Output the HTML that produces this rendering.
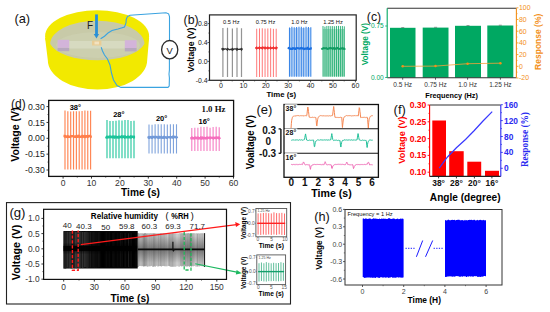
<!DOCTYPE html>
<html><head><meta charset="utf-8"><style>
html,body{margin:0;padding:0;background:#fff;}
body{width:550px;height:312px;overflow:hidden;font-family:"Liberation Sans",sans-serif;}
svg{display:block;}
</style></head><body>
<svg width="550" height="312" viewBox="0 0 550 312">
<rect width="550" height="312" fill="#fff"/>
<text x="14.4" y="23.2" font-size="12.8" fill="#111" text-anchor="start" font-weight="normal" font-family="'Liberation Sans', sans-serif">(a)</text>
<path d="M45.1 38 L47.8 60 A49.7 29.6 0 0 0 147.2 60 L149.1 38 Z" stroke="none" stroke-width="1" fill="#f2e900"/>
<ellipse cx="97.1" cy="36.2" rx="52" ry="26" fill="#f2e900"/>
<path d="M50.2 44 A47.1 23.2 0 0 1 144.4 44 A48.3 20.8 0 0 1 50.2 44 Z" stroke="none" stroke-width="1" fill="#c8caa8"/>
<ellipse cx="98" cy="45" rx="42" ry="13" fill="#d0d3b6" opacity="0.5"/>
<rect x="68" y="41" width="57" height="7.5" fill="#d9dcc4" opacity="0.8"/>
<rect x="57.6" y="47.8" width="11.6" height="3.4" fill="#b7a8be"/>
<rect x="124.8" y="47.8" width="11.8" height="3.6" fill="#b7a8be"/>
<rect x="57.6" y="39.8" width="11.6" height="8" fill="#d3b4da"/>
<rect x="124.8" y="40.2" width="11.8" height="7.8" fill="#d3b4da"/>
<rect x="92" y="40.6" width="9.4" height="4.9" fill="#e9cc94"/>
<rect x="94.5" y="41.6" width="4.5" height="2.8" fill="#f2e2c0"/>
<rect x="95.1" y="14.4" width="2.8" height="20.2" fill="#2a90d6"/>
<path d="M93.7 34.0 L99.1 34.0 L96.5 38.4 Z" stroke="none" stroke-width="1" fill="#2a90d6"/>
<text x="87" y="29" font-size="10" fill="#1a1a1a" text-anchor="start" font-weight="normal" font-family="'Liberation Sans', sans-serif">F</text>
<path d="M100.6 38.8 L104.5 36.2 L108 33 L112 30.5 L118 29 L124.5 27 L126 23 L126.2 19.5 L127.4 16.6 L130 15.2 L166 12.7 L168.6 13.8 L169.5 16.5 L169.5 41.7" stroke="#3aa3e0" stroke-width="1.1" fill="none"/>
<path d="M169.4 56.4 L169.4 70 L169 74 L169.4 78 L169.2 86 L168 87.4 L121 87.4 L117 85.5 L113.5 80 L111.5 73 L110 65 L107.5 59 L104.5 55 L102.5 51 L101.2 47.2" stroke="#3aa3e0" stroke-width="1.1" fill="none"/>
<ellipse cx="169.7" cy="49.7" rx="8.1" ry="9.2" fill="#fff" stroke="#2a2a2a" stroke-width="1.3"/>
<text x="169.7" y="53.6" font-size="9.4" fill="#222" text-anchor="middle" font-weight="normal" font-family="'Liberation Sans', sans-serif">V</text>
<text x="183.6" y="24.4" font-size="12.3" fill="#111" text-anchor="start" font-weight="normal" font-family="'Liberation Sans', sans-serif">(b)</text>
<line x1="207.5" y1="23.6" x2="209.5" y2="23.6" stroke="#333" stroke-width="0.8"/>
<text x="207.5" y="26.07" font-size="6.9" fill="#222" text-anchor="end" font-weight="normal" font-family="'Liberation Sans', sans-serif">0.8</text>
<line x1="207.5" y1="42.5" x2="209.5" y2="42.5" stroke="#333" stroke-width="0.8"/>
<text x="207.5" y="44.97" font-size="6.9" fill="#222" text-anchor="end" font-weight="normal" font-family="'Liberation Sans', sans-serif">0.4</text>
<line x1="207.5" y1="61.4" x2="209.5" y2="61.4" stroke="#333" stroke-width="0.8"/>
<text x="207.5" y="63.87" font-size="6.9" fill="#222" text-anchor="end" font-weight="normal" font-family="'Liberation Sans', sans-serif">0.0</text>
<line x1="207.5" y1="80.3" x2="209.5" y2="80.3" stroke="#333" stroke-width="0.8"/>
<text x="207.5" y="82.77" font-size="6.9" fill="#222" text-anchor="end" font-weight="normal" font-family="'Liberation Sans', sans-serif">-0.4</text>
<line x1="208.3" y1="33.05" x2="209.5" y2="33.05" stroke="#333" stroke-width="0.6"/>
<line x1="208.3" y1="51.95" x2="209.5" y2="51.95" stroke="#333" stroke-width="0.6"/>
<line x1="208.3" y1="70.85" x2="209.5" y2="70.85" stroke="#333" stroke-width="0.6"/>
<line x1="221" y1="80.3" x2="221" y2="82.3" stroke="#333" stroke-width="0.8"/>
<text x="221" y="88.11" font-size="7" fill="#222" text-anchor="middle" font-weight="normal" font-family="'Liberation Sans', sans-serif">0</text>
<line x1="243.4" y1="80.3" x2="243.4" y2="82.3" stroke="#333" stroke-width="0.8"/>
<text x="243.4" y="88.11" font-size="7" fill="#222" text-anchor="middle" font-weight="normal" font-family="'Liberation Sans', sans-serif">10</text>
<line x1="265.8" y1="80.3" x2="265.8" y2="82.3" stroke="#333" stroke-width="0.8"/>
<text x="265.8" y="88.11" font-size="7" fill="#222" text-anchor="middle" font-weight="normal" font-family="'Liberation Sans', sans-serif">20</text>
<line x1="288.2" y1="80.3" x2="288.2" y2="82.3" stroke="#333" stroke-width="0.8"/>
<text x="288.2" y="88.11" font-size="7" fill="#222" text-anchor="middle" font-weight="normal" font-family="'Liberation Sans', sans-serif">30</text>
<line x1="310.6" y1="80.3" x2="310.6" y2="82.3" stroke="#333" stroke-width="0.8"/>
<text x="310.6" y="88.11" font-size="7" fill="#222" text-anchor="middle" font-weight="normal" font-family="'Liberation Sans', sans-serif">40</text>
<line x1="333" y1="80.3" x2="333" y2="82.3" stroke="#333" stroke-width="0.8"/>
<text x="333" y="88.11" font-size="7" fill="#222" text-anchor="middle" font-weight="normal" font-family="'Liberation Sans', sans-serif">50</text>
<line x1="355.4" y1="80.3" x2="355.4" y2="82.3" stroke="#333" stroke-width="0.8"/>
<text x="355.4" y="88.11" font-size="7" fill="#222" text-anchor="middle" font-weight="normal" font-family="'Liberation Sans', sans-serif">60</text>
<line x1="232.2" y1="80.3" x2="232.2" y2="81.5" stroke="#333" stroke-width="0.6"/>
<line x1="254.6" y1="80.3" x2="254.6" y2="81.5" stroke="#333" stroke-width="0.6"/>
<line x1="277" y1="80.3" x2="277" y2="81.5" stroke="#333" stroke-width="0.6"/>
<line x1="299.4" y1="80.3" x2="299.4" y2="81.5" stroke="#333" stroke-width="0.6"/>
<line x1="321.8" y1="80.3" x2="321.8" y2="81.5" stroke="#333" stroke-width="0.6"/>
<line x1="344.2" y1="80.3" x2="344.2" y2="81.5" stroke="#333" stroke-width="0.6"/>
<text transform="translate(194.31 49.9) rotate(-90)" font-size="8.7" fill="#000" text-anchor="middle" font-weight="bold" font-family="'Liberation Sans', sans-serif">Voltage (V)</text>
<text x="281.3" y="97.2" font-size="7.8" fill="#000" text-anchor="middle" font-weight="bold" font-family="'Liberation Sans', sans-serif">Time (s)</text>
<path d="M222.9 27.99 L222.9 77M227.5 27.78 L227.5 77M232.4 28.38 L232.4 77M237 27.69 L237 77M241.5 28.24 L241.5 77" stroke="#888" stroke-width="1.2" fill="none" opacity="0.9"/>
<path d="M221.6 49.3 L222.9 47.5 L224.2 49.3 L222.9 51.3 ZM226.2 49.3 L227.5 47.5 L228.8 49.3 L227.5 51.3 ZM231.1 49.3 L232.4 47.5 L233.7 49.3 L232.4 51.3 ZM235.7 49.3 L237 47.5 L238.3 49.3 L237 51.3 ZM240.2 49.3 L241.5 47.5 L242.8 49.3 L241.5 51.3 Z" stroke="none" stroke-width="1" fill="#333"/>
<path d="M221.4 49.17 L222.1 48.86 L222.8 49.31 L223.5 48.84 L224.2 49.23 L224.9 48.87 L225.6 48.89 L226.3 49.22 L227 49.63 L227.7 48.92 L228.4 49.02 L229.1 49.43 L229.8 49.75 L230.5 49.38 L231.2 49.2 L231.9 49.78 L232.6 48.85 L233.3 49.66 L234 49.09 L234.7 48.94 L235.4 48.92 L236.1 49.11 L236.8 49.62 L237.5 48.98 L238.2 49.38 L238.9 49.44 L239.6 49.17 L240.3 49.35 L241 48.86 L241.7 48.86 L242.4 49.01" stroke="#333" stroke-width="1.3" fill="none"/>
<path d="M256.7 28.72 L256.7 77M259.49 28.41 L259.49 77M262.27 28.28 L262.27 77M265.06 28.6 L265.06 77M267.84 28.44 L267.84 77M270.63 28.26 L270.63 77M273.41 28.85 L273.41 77M276.2 28.74 L276.2 77" stroke="#ff5050" stroke-width="0.9" fill="none" opacity="0.85"/>
<path d="M255.4 47.9 L256.7 46.1 L258 47.9 L256.7 49.9 ZM258.19 47.9 L259.49 46.1 L260.79 47.9 L259.49 49.9 ZM260.97 47.9 L262.27 46.1 L263.57 47.9 L262.27 49.9 ZM263.76 47.9 L265.06 46.1 L266.36 47.9 L265.06 49.9 ZM266.54 47.9 L267.84 46.1 L269.14 47.9 L267.84 49.9 ZM269.33 47.9 L270.63 46.1 L271.93 47.9 L270.63 49.9 ZM272.11 47.9 L273.41 46.1 L274.71 47.9 L273.41 49.9 ZM274.9 47.9 L276.2 46.1 L277.5 47.9 L276.2 49.9 Z" stroke="none" stroke-width="1" fill="#f03030"/>
<path d="M255.2 47.64 L255.9 47.97 L256.6 47.93 L257.3 48.28 L258 48.13 L258.7 47.69 L259.4 48.38 L260.1 47.52 L260.8 47.82 L261.5 48.16 L262.2 47.55 L262.9 47.89 L263.6 47.44 L264.3 48.07 L265 48.16 L265.7 47.97 L266.4 48.28 L267.1 47.71 L267.8 48.1 L268.5 47.99 L269.2 47.98 L269.9 47.86 L270.6 48.24 L271.3 48.34 L272 47.87 L272.7 48.06 L273.4 47.46 L274.1 48.1 L274.8 48.05 L275.5 48.39 L276.2 48.22 L276.9 47.68 L277.6 47.79" stroke="#f03030" stroke-width="1.4" fill="none"/>
<path d="M290.6 28 L290.6 76.5M292.99 28 L292.99 76.5M295.38 28 L295.38 76.5M297.76 28 L297.76 76.5M300.15 28 L300.15 76.5M302.54 28 L302.54 76.5M304.93 28 L304.93 76.5M307.31 28 L307.31 76.5M309.7 28 L309.7 76.5" stroke="#a8c8f2" stroke-width="0.9" fill="none"/>
<path d="M289.5 27.5 L289.5 76.7M291.87 26.73 L291.87 76.7M294.23 27.25 L294.23 76.7M296.6 26.9 L296.6 76.7M298.97 26.84 L298.97 76.7M301.33 26.77 L301.33 76.7M303.7 27.62 L303.7 76.7M306.07 26.86 L306.07 76.7M308.43 27 L308.43 76.7M310.8 27.17 L310.8 76.7" stroke="#2f7fe6" stroke-width="1.1" fill="none" opacity="0.95"/>
<path d="M288 48.87 L288.7 48.08 L289.4 48.45 L290.1 48.55 L290.8 48.88 L291.5 48.82 L292.2 48.86 L292.9 48.28 L293.6 48.42 L294.3 48.36 L295 48.88 L295.7 48.96 L296.4 48.15 L297.1 48.18 L297.8 48.23 L298.5 48.23 L299.2 48.48 L299.9 48.59 L300.6 48.26 L301.3 48 L302 48.42 L302.7 48.37 L303.4 48.57 L304.1 48.95 L304.8 48.69 L305.5 48.52 L306.2 48.62 L306.9 48.68 L307.6 48.05 L308.3 48.9 L309 48.78 L309.7 48.87 L310.4 48.8 L311.1 48.39 L311.8 48.4" stroke="#1a6ee0" stroke-width="2.2" fill="none"/>
<rect x="323" y="29" width="21.5" height="47.5" fill="#cdeedd"/>
<path d="M323.8 29 L323.8 76.5M325.59 29 L325.59 76.5M327.38 29 L327.38 76.5M329.17 29 L329.17 76.5M330.96 29 L330.96 76.5M332.75 29 L332.75 76.5M334.55 29 L334.55 76.5M336.34 29 L336.34 76.5M338.13 29 L338.13 76.5M339.92 29 L339.92 76.5M341.71 29 L341.71 76.5M343.5 29 L343.5 76.5" stroke="#9bd8bb" stroke-width="0.9" fill="none"/>
<path d="M323 26.02 L323 76.7M324.94 26.66 L324.94 76.7M326.87 25.97 L326.87 76.7M328.81 25.98 L328.81 76.7M330.75 26.15 L330.75 76.7M332.68 26.09 L332.68 76.7M334.62 26.31 L334.62 76.7M336.55 25.96 L336.55 76.7M338.49 25.9 L338.49 76.7M340.43 26.08 L340.43 76.7M342.36 26.02 L342.36 76.7M344.3 26.34 L344.3 76.7" stroke="#1fad72" stroke-width="1" fill="none" opacity="0.9"/>
<path d="M321.5 48.03 L322.2 48.87 L322.9 48.61 L323.6 48.15 L324.3 48.25 L325 48.35 L325.7 48.36 L326.4 48.12 L327.1 48.85 L327.8 48.99 L328.5 48.47 L329.2 48.48 L329.9 48.09 L330.6 48.1 L331.3 48.34 L332 48.26 L332.7 48.83 L333.4 48.16 L334.1 48.02 L334.8 48.95 L335.5 48.53 L336.2 48.15 L336.9 48.54 L337.6 48.03 L338.3 48.53 L339 48.98 L339.7 48.86 L340.4 48.7 L341.1 48.26 L341.8 48.37 L342.5 48.17 L343.2 48.77 L343.9 48.53 L344.6 48.78 L345.3 48.33" stroke="#129c62" stroke-width="2" fill="none"/>
<text x="231.3" y="23.64" font-size="5.7" fill="#111" text-anchor="middle" font-weight="normal" font-family="'Liberation Sans', sans-serif">0.5 Hz</text>
<text x="265.5" y="23.64" font-size="5.7" fill="#111" text-anchor="middle" font-weight="normal" font-family="'Liberation Sans', sans-serif">0.75 Hz</text>
<text x="299.5" y="23.64" font-size="5.7" fill="#111" text-anchor="middle" font-weight="normal" font-family="'Liberation Sans', sans-serif">1.0 Hz</text>
<text x="333" y="23.64" font-size="5.7" fill="#111" text-anchor="middle" font-weight="normal" font-family="'Liberation Sans', sans-serif">1.25 Hz</text>
<rect x="209.5" y="14.9" width="146.7" height="65.4" fill="none" stroke="#222" stroke-width="1.2"/>
<text x="366.8" y="21.4" font-size="12.3" fill="#111" text-anchor="start" font-weight="normal" font-family="'Liberation Sans', sans-serif">(c)</text>
<rect x="390" y="27.8" width="25.5" height="49.9" fill="#00a862"/>
<line x1="401.25" y1="27.5" x2="404.25" y2="27.5" stroke="#444" stroke-width="0.5"/>
<rect x="422.7" y="27.6" width="25.8" height="50.1" fill="#00a862"/>
<line x1="434.1" y1="27.3" x2="437.1" y2="27.3" stroke="#444" stroke-width="0.5"/>
<rect x="455" y="25.8" width="26" height="51.9" fill="#00a862"/>
<line x1="466.5" y1="25.5" x2="469.5" y2="25.5" stroke="#444" stroke-width="0.5"/>
<rect x="487.3" y="25.5" width="26" height="52.2" fill="#00a862"/>
<line x1="498.8" y1="25.2" x2="501.8" y2="25.2" stroke="#444" stroke-width="0.5"/>
<line x1="387.2" y1="8.2" x2="516.4" y2="8.2" stroke="#333" stroke-width="1.1"/>
<line x1="387.2" y1="77.7" x2="516.4" y2="77.7" stroke="#333" stroke-width="1.1"/>
<line x1="387.2" y1="8.2" x2="387.2" y2="77.7" stroke="#00a862" stroke-width="1.1"/>
<line x1="516.4" y1="8.2" x2="516.4" y2="77.7" stroke="#f39019" stroke-width="1.1"/>
<line x1="385.2" y1="26" x2="387.2" y2="26" stroke="#00a862" stroke-width="0.8"/>
<line x1="385.2" y1="77.5" x2="387.2" y2="77.5" stroke="#00a862" stroke-width="0.8"/>
<text x="383.8" y="28.36" font-size="6.6" fill="#00a862" text-anchor="end" font-weight="normal" font-family="'Liberation Sans', sans-serif">0.75</text>
<text x="383.8" y="79.76" font-size="6.6" fill="#00a862" text-anchor="end" font-weight="normal" font-family="'Liberation Sans', sans-serif">0.00</text>
<line x1="516.4" y1="78" x2="518.4" y2="78" stroke="#f39019" stroke-width="0.8"/>
<text x="519" y="80.47" font-size="6.9" fill="#f39019" text-anchor="start" font-weight="normal" font-family="'Liberation Sans', sans-serif">-20</text>
<line x1="516.4" y1="66.3" x2="518.4" y2="66.3" stroke="#f39019" stroke-width="0.8"/>
<text x="519" y="68.77" font-size="6.9" fill="#f39019" text-anchor="start" font-weight="normal" font-family="'Liberation Sans', sans-serif">0</text>
<line x1="516.4" y1="54.6" x2="518.4" y2="54.6" stroke="#f39019" stroke-width="0.8"/>
<text x="519" y="57.07" font-size="6.9" fill="#f39019" text-anchor="start" font-weight="normal" font-family="'Liberation Sans', sans-serif">20</text>
<line x1="516.4" y1="42.9" x2="518.4" y2="42.9" stroke="#f39019" stroke-width="0.8"/>
<text x="519" y="45.37" font-size="6.9" fill="#f39019" text-anchor="start" font-weight="normal" font-family="'Liberation Sans', sans-serif">40</text>
<line x1="516.4" y1="31.2" x2="518.4" y2="31.2" stroke="#f39019" stroke-width="0.8"/>
<text x="519" y="33.67" font-size="6.9" fill="#f39019" text-anchor="start" font-weight="normal" font-family="'Liberation Sans', sans-serif">60</text>
<line x1="516.4" y1="19.5" x2="518.4" y2="19.5" stroke="#f39019" stroke-width="0.8"/>
<text x="519" y="21.97" font-size="6.9" fill="#f39019" text-anchor="start" font-weight="normal" font-family="'Liberation Sans', sans-serif">80</text>
<line x1="516.4" y1="7.8" x2="518.4" y2="7.8" stroke="#f39019" stroke-width="0.8"/>
<text x="519" y="10.27" font-size="6.9" fill="#f39019" text-anchor="start" font-weight="normal" font-family="'Liberation Sans', sans-serif">100</text>
<line x1="516.4" y1="72.15" x2="517.6" y2="72.15" stroke="#f39019" stroke-width="0.6"/>
<line x1="516.4" y1="60.45" x2="517.6" y2="60.45" stroke="#f39019" stroke-width="0.6"/>
<line x1="516.4" y1="48.75" x2="517.6" y2="48.75" stroke="#f39019" stroke-width="0.6"/>
<line x1="516.4" y1="37.05" x2="517.6" y2="37.05" stroke="#f39019" stroke-width="0.6"/>
<line x1="516.4" y1="25.35" x2="517.6" y2="25.35" stroke="#f39019" stroke-width="0.6"/>
<line x1="516.4" y1="13.65" x2="517.6" y2="13.65" stroke="#f39019" stroke-width="0.6"/>
<path d="M402.7 66.3 L435.5 66.1 L467.6 63.7 L500.4 63.2" stroke="#f5a23a" stroke-width="0.8" fill="none"/>
<circle cx="402.7" cy="66.3" r="1.25" fill="#f39019"/>
<circle cx="435.5" cy="66.1" r="1.25" fill="#f39019"/>
<circle cx="467.6" cy="63.7" r="1.25" fill="#f39019"/>
<circle cx="500.4" cy="63.2" r="1.25" fill="#f39019"/>
<line x1="402.7" y1="77.7" x2="402.7" y2="79.7" stroke="#333" stroke-width="0.8"/>
<text x="402.7" y="86.93" font-size="6.5" fill="#333" text-anchor="middle" font-weight="normal" font-family="'Liberation Sans', sans-serif">0.5 Hz</text>
<line x1="435.5" y1="77.7" x2="435.5" y2="79.7" stroke="#333" stroke-width="0.8"/>
<text x="435.5" y="86.93" font-size="6.5" fill="#333" text-anchor="middle" font-weight="normal" font-family="'Liberation Sans', sans-serif">0.75 Hz</text>
<line x1="467.6" y1="77.7" x2="467.6" y2="79.7" stroke="#333" stroke-width="0.8"/>
<text x="467.6" y="86.93" font-size="6.5" fill="#333" text-anchor="middle" font-weight="normal" font-family="'Liberation Sans', sans-serif">1.0 Hz</text>
<line x1="500.4" y1="77.7" x2="500.4" y2="79.7" stroke="#333" stroke-width="0.8"/>
<text x="500.4" y="86.93" font-size="6.5" fill="#333" text-anchor="middle" font-weight="normal" font-family="'Liberation Sans', sans-serif">1.25 Hz</text>
<text x="451.6" y="98" font-size="7.3" fill="#000" text-anchor="middle" font-weight="bold" font-family="'Liberation Sans', sans-serif">Frequency (Hz)</text>
<text transform="translate(367.94 44.2) rotate(-90)" font-size="8.2" fill="#00a862" text-anchor="middle" font-weight="bold" font-family="'Liberation Sans', sans-serif">Voltage (V)</text>
<text transform="translate(541.44 41.8) rotate(-90)" font-size="8.5" fill="#f39019" text-anchor="middle" font-weight="bold" font-family="'Liberation Sans', sans-serif">Response (%)</text>
<line x1="46.5" y1="106.6" x2="48.7" y2="106.6" stroke="#222" stroke-width="0.9"/>
<text x="44.8" y="109.71" font-size="8.7" fill="#222" text-anchor="end" font-weight="normal" font-family="'Liberation Sans', sans-serif">0.30</text>
<line x1="46.5" y1="122.45" x2="48.7" y2="122.45" stroke="#222" stroke-width="0.9"/>
<text x="44.8" y="125.56" font-size="8.7" fill="#222" text-anchor="end" font-weight="normal" font-family="'Liberation Sans', sans-serif">0.15</text>
<line x1="46.5" y1="138.3" x2="48.7" y2="138.3" stroke="#222" stroke-width="0.9"/>
<text x="44.8" y="141.41" font-size="8.7" fill="#222" text-anchor="end" font-weight="normal" font-family="'Liberation Sans', sans-serif">0.00</text>
<line x1="46.5" y1="154.15" x2="48.7" y2="154.15" stroke="#222" stroke-width="0.9"/>
<text x="44.8" y="157.26" font-size="8.7" fill="#222" text-anchor="end" font-weight="normal" font-family="'Liberation Sans', sans-serif">-0.15</text>
<line x1="46.5" y1="170" x2="48.7" y2="170" stroke="#222" stroke-width="0.9"/>
<text x="44.8" y="173.11" font-size="8.7" fill="#222" text-anchor="end" font-weight="normal" font-family="'Liberation Sans', sans-serif">-0.30</text>
<line x1="47.5" y1="114.53" x2="48.7" y2="114.53" stroke="#222" stroke-width="0.7"/>
<line x1="47.5" y1="130.38" x2="48.7" y2="130.38" stroke="#222" stroke-width="0.7"/>
<line x1="47.5" y1="146.23" x2="48.7" y2="146.23" stroke="#222" stroke-width="0.7"/>
<line x1="47.5" y1="162.08" x2="48.7" y2="162.08" stroke="#222" stroke-width="0.7"/>
<line x1="63.1" y1="176.4" x2="63.1" y2="178.6" stroke="#222" stroke-width="0.9"/>
<text x="63.1" y="186.28" font-size="8.6" fill="#333" text-anchor="middle" font-weight="normal" font-family="'Liberation Sans', sans-serif">0</text>
<line x1="91.5" y1="176.4" x2="91.5" y2="178.6" stroke="#222" stroke-width="0.9"/>
<text x="91.5" y="186.28" font-size="8.6" fill="#333" text-anchor="middle" font-weight="normal" font-family="'Liberation Sans', sans-serif">10</text>
<line x1="119.9" y1="176.4" x2="119.9" y2="178.6" stroke="#222" stroke-width="0.9"/>
<text x="119.9" y="186.28" font-size="8.6" fill="#333" text-anchor="middle" font-weight="normal" font-family="'Liberation Sans', sans-serif">20</text>
<line x1="148.3" y1="176.4" x2="148.3" y2="178.6" stroke="#222" stroke-width="0.9"/>
<text x="148.3" y="186.28" font-size="8.6" fill="#333" text-anchor="middle" font-weight="normal" font-family="'Liberation Sans', sans-serif">30</text>
<line x1="176.7" y1="176.4" x2="176.7" y2="178.6" stroke="#222" stroke-width="0.9"/>
<text x="176.7" y="186.28" font-size="8.6" fill="#333" text-anchor="middle" font-weight="normal" font-family="'Liberation Sans', sans-serif">40</text>
<line x1="205.1" y1="176.4" x2="205.1" y2="178.6" stroke="#222" stroke-width="0.9"/>
<text x="205.1" y="186.28" font-size="8.6" fill="#333" text-anchor="middle" font-weight="normal" font-family="'Liberation Sans', sans-serif">50</text>
<line x1="233.5" y1="176.4" x2="233.5" y2="178.6" stroke="#222" stroke-width="0.9"/>
<text x="233.5" y="186.28" font-size="8.6" fill="#333" text-anchor="middle" font-weight="normal" font-family="'Liberation Sans', sans-serif">60</text>
<line x1="77.3" y1="176.4" x2="77.3" y2="177.6" stroke="#222" stroke-width="0.7"/>
<line x1="105.7" y1="176.4" x2="105.7" y2="177.6" stroke="#222" stroke-width="0.7"/>
<line x1="134.1" y1="176.4" x2="134.1" y2="177.6" stroke="#222" stroke-width="0.7"/>
<line x1="162.5" y1="176.4" x2="162.5" y2="177.6" stroke="#222" stroke-width="0.7"/>
<line x1="190.9" y1="176.4" x2="190.9" y2="177.6" stroke="#222" stroke-width="0.7"/>
<line x1="219.3" y1="176.4" x2="219.3" y2="177.6" stroke="#222" stroke-width="0.7"/>
<path d="M65 110.47 L65 169.6M67.84 111.17 L67.84 169.6M70.69 111.38 L70.69 169.6M73.53 111.22 L73.53 169.6M76.38 111.17 L76.38 169.6M79.22 111.18 L79.22 169.6M82.07 111.09 L82.07 169.6M84.91 110.47 L84.91 169.6M87.76 110.82 L87.76 169.6M90.6 110.63 L90.6 169.6" stroke="#ff7e4a" stroke-width="1.15" fill="none" opacity="0.95"/>
<path d="M63.7 136.4 L65 134.6 L66.3 136.4 L65 138.4 ZM66.54 136.4 L67.84 134.6 L69.14 136.4 L67.84 138.4 ZM69.39 136.4 L70.69 134.6 L71.99 136.4 L70.69 138.4 ZM72.23 136.4 L73.53 134.6 L74.83 136.4 L73.53 138.4 ZM75.08 136.4 L76.38 134.6 L77.68 136.4 L76.38 138.4 ZM77.92 136.4 L79.22 134.6 L80.52 136.4 L79.22 138.4 ZM80.77 136.4 L82.07 134.6 L83.37 136.4 L82.07 138.4 ZM83.61 136.4 L84.91 134.6 L86.21 136.4 L84.91 138.4 ZM86.46 136.4 L87.76 134.6 L89.06 136.4 L87.76 138.4 ZM89.3 136.4 L90.6 134.6 L91.9 136.4 L90.6 138.4 Z" stroke="none" stroke-width="1" fill="#ff7e4a"/>
<path d="M63.5 135.93 L64.2 135.93 L64.9 136.18 L65.6 136.16 L66.3 136.59 L67 136.86 L67.7 136.35 L68.4 136.84 L69.1 136.89 L69.8 136.86 L70.5 136.26 L71.2 136.12 L71.9 136.13 L72.6 136.1 L73.3 136.1 L74 136.52 L74.7 136.8 L75.4 136.74 L76.1 136.38 L76.8 136.55 L77.5 136.7 L78.2 135.98 L78.9 136.56 L79.6 136.81 L80.3 136.68 L81 136.65 L81.7 136.38 L82.4 136.08 L83.1 136.69 L83.8 136.23 L84.5 136.7 L85.2 136.87 L85.9 136.3 L86.6 136.3 L87.3 136.85 L88 136.62 L88.7 136.07 L89.4 136.03 L90.1 136.05 L90.8 136.8 L91.5 136.71" stroke="#ff7e4a" stroke-width="2.4" fill="none"/>
<path d="M107 120.08 L107 158.2M110 120.89 L110 158.2M113 121.08 L113 158.2M116 120.69 L116 158.2M119 120.32 L119 158.2M122 120.56 L122 158.2M125 120.06 L125 158.2M128 119.92 L128 158.2M131 121.07 L131 158.2M134 120.68 L134 158.2" stroke="#1cc49a" stroke-width="1.15" fill="none" opacity="0.95"/>
<path d="M105.7 137 L107 135.2 L108.3 137 L107 139 ZM108.7 137 L110 135.2 L111.3 137 L110 139 ZM111.7 137 L113 135.2 L114.3 137 L113 139 ZM114.7 137 L116 135.2 L117.3 137 L116 139 ZM117.7 137 L119 135.2 L120.3 137 L119 139 ZM120.7 137 L122 135.2 L123.3 137 L122 139 ZM123.7 137 L125 135.2 L126.3 137 L125 139 ZM126.7 137 L128 135.2 L129.3 137 L128 139 ZM129.7 137 L131 135.2 L132.3 137 L131 139 ZM132.7 137 L134 135.2 L135.3 137 L134 139 Z" stroke="none" stroke-width="1" fill="#1cc49a"/>
<path d="M105.5 137.03 L106.2 137.43 L106.9 136.93 L107.6 137.37 L108.3 137.33 L109 136.71 L109.7 136.75 L110.4 136.79 L111.1 136.74 L111.8 137.09 L112.5 136.76 L113.2 136.92 L113.9 136.63 L114.6 137.41 L115.3 136.85 L116 136.96 L116.7 137.08 L117.4 137.4 L118.1 136.92 L118.8 137.42 L119.5 137 L120.2 137.03 L120.9 137.02 L121.6 136.52 L122.3 136.94 L123 136.68 L123.7 136.5 L124.4 137.3 L125.1 136.67 L125.8 136.97 L126.5 137.23 L127.2 137.06 L127.9 136.83 L128.6 137.02 L129.3 137.06 L130 137.28 L130.7 136.61 L131.4 137.06 L132.1 136.75 L132.8 136.78 L133.5 137.27 L134.2 137.01 L134.9 137.06" stroke="#1cc49a" stroke-width="2.4" fill="none"/>
<path d="M149 124.51 L149 153.6M152.06 124.69 L152.06 153.6M155.11 124.13 L155.11 153.6M158.17 124.34 L158.17 153.6M161.22 124.21 L161.22 153.6M164.28 124.21 L164.28 153.6M167.33 124.43 L167.33 153.6M170.39 124.14 L170.39 153.6M173.44 124.24 L173.44 153.6M176.5 124.17 L176.5 153.6" stroke="#7199d8" stroke-width="1.1" fill="none" opacity="0.9"/>
<path d="M147.7 137.3 L149 135.5 L150.3 137.3 L149 139.3 ZM150.76 137.3 L152.06 135.5 L153.36 137.3 L152.06 139.3 ZM153.81 137.3 L155.11 135.5 L156.41 137.3 L155.11 139.3 ZM156.87 137.3 L158.17 135.5 L159.47 137.3 L158.17 139.3 ZM159.92 137.3 L161.22 135.5 L162.52 137.3 L161.22 139.3 ZM162.98 137.3 L164.28 135.5 L165.58 137.3 L164.28 139.3 ZM166.03 137.3 L167.33 135.5 L168.63 137.3 L167.33 139.3 ZM169.09 137.3 L170.39 135.5 L171.69 137.3 L170.39 139.3 ZM172.14 137.3 L173.44 135.5 L174.74 137.3 L173.44 139.3 ZM175.2 137.3 L176.5 135.5 L177.8 137.3 L176.5 139.3 Z" stroke="none" stroke-width="1" fill="#7199d8"/>
<path d="M147.5 137.74 L148.2 137.5 L148.9 137.68 L149.6 137.74 L150.3 137.06 L151 137.36 L151.7 137.74 L152.4 137.64 L153.1 136.94 L153.8 136.92 L154.5 137.24 L155.2 136.87 L155.9 137.04 L156.6 136.87 L157.3 137.47 L158 137.58 L158.7 137.7 L159.4 136.95 L160.1 137.52 L160.8 137.46 L161.5 136.94 L162.2 137.68 L162.9 137.77 L163.6 137.02 L164.3 137.75 L165 137.2 L165.7 137.29 L166.4 137.79 L167.1 137.63 L167.8 136.96 L168.5 137.23 L169.2 137.32 L169.9 137.14 L170.6 137 L171.3 137.12 L172 137.52 L172.7 136.82 L173.4 137.35 L174.1 137.24 L174.8 136.82 L175.5 137.13 L176.2 137.42 L176.9 137.31 L177.6 136.86" stroke="#7199d8" stroke-width="2.2" fill="none"/>
<path d="M191.8 127.88 L191.8 151M194.84 127.65 L194.84 151M197.89 127.87 L197.89 151M200.93 126.83 L200.93 151M203.98 127.02 L203.98 151M207.02 126.75 L207.02 151M210.07 127.63 L210.07 151M213.11 127.02 L213.11 151M216.16 126.86 L216.16 151M219.2 127.21 L219.2 151" stroke="#f56ebd" stroke-width="1.1" fill="none" opacity="0.9"/>
<path d="M190.5 138 L191.8 136.2 L193.1 138 L191.8 140 ZM193.54 138 L194.84 136.2 L196.14 138 L194.84 140 ZM196.59 138 L197.89 136.2 L199.19 138 L197.89 140 ZM199.63 138 L200.93 136.2 L202.23 138 L200.93 140 ZM202.68 138 L203.98 136.2 L205.28 138 L203.98 140 ZM205.72 138 L207.02 136.2 L208.32 138 L207.02 140 ZM208.77 138 L210.07 136.2 L211.37 138 L210.07 140 ZM211.81 138 L213.11 136.2 L214.41 138 L213.11 140 ZM214.86 138 L216.16 136.2 L217.46 138 L216.16 140 ZM217.9 138 L219.2 136.2 L220.5 138 L219.2 140 Z" stroke="none" stroke-width="1" fill="#f56ebd"/>
<path d="M190.3 138.41 L191 138.32 L191.7 137.76 L192.4 137.65 L193.1 138.42 L193.8 138.07 L194.5 138.2 L195.2 137.59 L195.9 137.56 L196.6 138.19 L197.3 137.93 L198 137.57 L198.7 138.44 L199.4 138.13 L200.1 138.3 L200.8 137.58 L201.5 138.36 L202.2 137.57 L202.9 138.36 L203.6 137.95 L204.3 137.84 L205 138.05 L205.7 138.43 L206.4 137.77 L207.1 137.63 L207.8 138.03 L208.5 137.74 L209.2 137.61 L209.9 137.66 L210.6 137.55 L211.3 137.7 L212 137.81 L212.7 137.81 L213.4 138.26 L214.1 137.79 L214.8 138 L215.5 137.68 L216.2 137.85 L216.9 137.52 L217.6 137.75 L218.3 137.52 L219 138.23 L219.7 138.05 L220.4 137.69" stroke="#f56ebd" stroke-width="2.2" fill="none"/>
<text x="75.3" y="109.69" font-size="7.5" fill="#000" text-anchor="middle" font-weight="bold" font-family="'Liberation Sans', sans-serif">38°</text>
<text x="118.8" y="117.28" font-size="7.5" fill="#000" text-anchor="middle" font-weight="bold" font-family="'Liberation Sans', sans-serif">28°</text>
<text x="161.6" y="120.89" font-size="7.5" fill="#000" text-anchor="middle" font-weight="bold" font-family="'Liberation Sans', sans-serif">20°</text>
<text x="204.2" y="123.89" font-size="7.5" fill="#000" text-anchor="middle" font-weight="bold" font-family="'Liberation Sans', sans-serif">16°</text>
<text x="213.5" y="112.2" font-size="8.8" fill="#111" text-anchor="middle" font-weight="bold" font-family="'Liberation Serif', serif">1.0 Hz</text>
<rect x="48.7" y="100.4" width="184.9" height="76" fill="none" stroke="#111" stroke-width="1.3"/>
<text x="140.5" y="195.5" font-size="10.2" fill="#000" text-anchor="middle" font-weight="bold" font-family="'Liberation Sans', sans-serif">Time (s)</text>
<text transform="translate(19.19 134.6) rotate(-90)" font-size="10.6" fill="#000" text-anchor="middle" font-weight="bold" font-family="'Liberation Sans', sans-serif">Voltage (V)</text>
<text x="11" y="107.6" font-size="12" fill="#111" text-anchor="start" font-weight="normal" font-family="'Liberation Sans', sans-serif">(d)</text>
<path d="M291 128.45 L291.35 123.7 L291.7 120.27 L292.05 118.79 L292.4 117.48 L292.75 116.84 L293.1 116.6 L293.45 116.13 L293.8 116.04 L294.15 116.03 L294.5 116.13 L294.85 115.77 L295.2 116 L295.55 115.92 L295.9 115.88 L296.25 115.76 L296.6 115.73 L296.95 115.58 L297.3 115.62 L297.65 115.59 L298 115.92 L298.35 115.68 L298.7 115.63 L299.05 115.59 L299.4 115.97 L299.75 115.99 L300.1 115.89 L300.45 115.69 L300.8 115.67 L301.15 115.7 L301.5 115.78 L301.85 115.63 L302.2 115.77 L302.55 115.68 L302.9 116.03 L303.25 116.04 L303.6 115.82 L303.95 115.67 L304.3 116.03 L304.65 115.7 L305 115.73 L305.35 115.55 L305.7 115.74 L306.05 115.79 L306.4 115.8 L306.75 115.65 L307.1 113.21 L307.45 109.94 L307.8 107.05 L308.15 108.25 L308.5 111.43 L308.85 114.28 L309.2 117.16 L309.55 117.3 L309.9 117.27 L310.25 117.44 L310.6 117.41 L310.95 117.53 L311.3 117.48 L311.65 117.51 L312 117.59 L312.35 117.34 L312.7 117.31 L313.05 117.64 L313.4 117.22 L313.75 117.51 L314.1 117.47 L314.45 117.17 L314.8 117.57 L315.15 117.6 L315.5 117.46 L315.85 117.52 L316.2 120.51 L316.55 125.33 L316.9 126.04 L317.25 122.01 L317.6 119.73 L317.95 118.23 L318.3 117.35 L318.65 116.68 L319 116.51 L319.35 116.2 L319.7 116.08 L320.05 115.78 L320.4 115.63 L320.75 115.66 L321.1 115.76 L321.45 115.62 L321.8 115.98 L322.15 115.83 L322.5 115.87 L322.85 115.87 L323.2 115.89 L323.55 115.8 L323.9 115.55 L324.25 115.95 L324.6 115.92 L324.95 115.8 L325.3 115.82 L325.65 115.88 L326 115.58 L326.35 115.92 L326.7 115.68 L327.05 115.59 L327.4 115.68 L327.75 115.91 L328.1 115.65 L328.45 115.92 L328.8 116.04 L329.15 115.8 L329.5 115.74 L329.85 115.79 L330.2 115.89 L330.55 115.93 L330.9 115.86 L331.25 115.87 L331.6 115.59 L331.95 115.62 L332.3 115.68 L332.65 115.06 L333 111.82 L333.35 108.92 L333.7 106.49 L334.05 109.53 L334.4 112.66 L334.75 115.89 L335.1 117.5 L335.45 117.49 L335.8 117.3 L336.15 117.41 L336.5 117.38 L336.85 117.38 L337.2 117.21 L337.55 117.6 L337.9 117.25 L338.25 117.64 L338.6 117.62 L338.95 117.16 L339.3 117.38 L339.65 117.56 L340 117.63 L340.35 117.37 L340.7 117.28 L341.05 117.25 L341.4 117.62 L341.75 117.26 L342.1 122.6 L342.45 127.55 L342.8 124.07 L343.15 121.03 L343.5 118.65 L343.85 117.8 L344.2 116.92 L344.55 116.67 L344.9 116.31 L345.25 115.92 L345.6 116.15 L345.95 115.88 L346.3 115.62 L346.65 115.59 L347 115.82 L347.35 115.79 L347.7 115.71 L348.05 115.62 L348.4 115.72 L348.75 115.71 L349.1 115.97 L349.45 115.55 L349.8 115.93 L350.15 115.97 L350.5 115.61 L350.85 116.01 L351.2 115.91 L351.55 116 L351.9 115.69 L352.25 115.74 L352.6 115.75 L352.95 116.05 L353.3 115.84 L353.65 115.73 L354 115.76 L354.35 115.69 L354.7 115.57 L355.05 115.6 L355.4 115.97 L355.75 115.69 L356.1 116.02 L356.45 115.67 L356.8 115.68 L357.15 115.81 L357.5 115.64 L357.85 115.74 L358.2 116.03 L358.55 113.83 L358.9 110.77 L359.25 107.66 L359.6 108.23 L359.95 111.27 L360.3 114.1 L360.65 117.51 L361 117.17 L361.35 117.52 L361.7 117.38 L362.05 117.53 L362.4 117.47 L362.75 117.29 L363.1 117.17 L363.45 117.61 L363.8 117.21 L364.15 117.39 L364.5 117.32 L364.85 117.3 L365.2 117.52 L365.55 117.64 L365.9 117.28 L366.25 117.48 L366.6 117.3 L366.95 117.43 L367.3 117.35 L367.65 119.45 L368 124.61 L368.35 128.24 L368.7 122.67 L369.05 119.84 L369.4 118.11 L369.75 117.49 L370.1 116.95 L370.45 116.32 L370.8 115.95 L371.15 115.85 L371.5 115.72 L371.85 115.8 L372.2 115.64 L372.55 115.7 L372.9 115.7" stroke="#f58752" stroke-width="1" fill="none"/>
<path d="M291.2 140.15 L291.55 140.26 L291.9 140.17 L292.25 139.98 L292.6 139.97 L292.95 140.02 L293.3 139.94 L293.65 139.92 L294 139.78 L294.35 139.89 L294.7 140.23 L295.05 139.81 L295.4 140 L295.75 140.06 L296.1 140.18 L296.45 139.86 L296.8 139.89 L297.15 139.87 L297.5 139.95 L297.85 139.97 L298.2 140.23 L298.55 140.17 L298.9 140.19 L299.25 139.76 L299.6 139.77 L299.95 140.1 L300.3 140.2 L300.65 139.99 L301 140.04 L301.35 139.75 L301.7 139.95 L302.05 140.21 L302.4 140.16 L302.75 140.18 L303.1 140.24 L303.45 139.87 L303.8 139.8 L304.15 139.83 L304.5 139.42 L304.85 137.43 L305.2 135.49 L305.55 133.91 L305.9 135.94 L306.25 138.06 L306.6 139.98 L306.95 140.33 L307.3 140.07 L307.65 140.44 L308 140.17 L308.35 140.51 L308.7 140.37 L309.05 140.2 L309.4 140.11 L309.75 140.18 L310.1 140.37 L310.45 140.4 L310.8 140.11 L311.15 140.09 L311.5 140.31 L311.85 140.34 L312.2 140.24 L312.55 140.16 L312.9 140.35 L313.25 140.06 L313.6 140.2 L313.95 142.84 L314.3 146.68 L314.65 146.69 L315 144.21 L315.35 142.42 L315.7 141.34 L316.05 140.77 L316.4 140.77 L316.75 140.43 L317.1 140.1 L317.45 139.88 L317.8 140.07 L318.15 140.13 L318.5 139.99 L318.85 139.9 L319.2 140.09 L319.55 140.22 L319.9 139.87 L320.25 139.77 L320.6 139.92 L320.95 139.96 L321.3 140.09 L321.65 139.85 L322 140.15 L322.35 140.12 L322.7 140 L323.05 139.85 L323.4 140.23 L323.75 139.91 L324.1 140.16 L324.45 139.87 L324.8 139.86 L325.15 140.13 L325.5 139.9 L325.85 140.23 L326.2 140 L326.55 139.84 L326.9 139.86 L327.25 139.96 L327.6 140.08 L327.95 140.22 L328.3 139.82 L328.65 139.95 L329 139.86 L329.35 140.24 L329.7 139.82 L330.05 139.78 L330.4 139.78 L330.75 139.95 L331.1 137.84 L331.45 135.76 L331.8 133.62 L332.15 135.82 L332.5 137.85 L332.85 139.62 L333.2 140.14 L333.55 140.52 L333.9 140.42 L334.25 140.07 L334.6 140.38 L334.95 140.24 L335.3 140.24 L335.65 140.22 L336 140.13 L336.35 140.05 L336.7 140.19 L337.05 140.23 L337.4 140.53 L337.75 140.11 L338.1 140.53 L338.45 140.15 L338.8 140.23 L339.15 140.46 L339.5 140.46 L339.85 140.27 L340.2 142.12 L340.55 145.92 L340.9 147.04 L341.25 144.52 L341.6 142.46 L341.95 141.52 L342.3 141.16 L342.65 140.35 L343 140.31 L343.35 140.37 L343.7 140.26 L344.05 139.85 L344.4 139.82 L344.75 139.81 L345.1 140.23 L345.45 139.89 L345.8 140.13 L346.15 140.2 L346.5 139.92 L346.85 139.89 L347.2 140.23 L347.55 140.06 L347.9 139.88 L348.25 140.11 L348.6 139.91 L348.95 139.89 L349.3 139.75 L349.65 140.13 L350 140.21 L350.35 140.07 L350.7 140.22 L351.05 139.76 L351.4 139.87 L351.75 139.99 L352.1 140.23 L352.45 140.23 L352.8 139.94 L353.15 139.88 L353.5 139.96 L353.85 140 L354.2 140.21 L354.55 139.84 L354.9 140.15 L355.25 140.12 L355.6 140.16 L355.95 140.14 L356.3 140.05 L356.65 139.91 L357 139.91 L357.35 137.86 L357.7 136 L358.05 133.58 L358.4 135.12 L358.75 137.47 L359.1 139.28 L359.45 140.08 L359.8 140.07 L360.15 140.33 L360.5 140.21 L360.85 140.54 L361.2 140.49 L361.55 140.54 L361.9 140.18 L362.25 140.09 L362.6 140.1 L362.95 140.3 L363.3 140.4 L363.65 140.27 L364 140.17 L364.35 140.26 L364.7 140.36 L365.05 140.39 L365.4 140.42 L365.75 140.47 L366.1 140.38 L366.45 141.65 L366.8 145.6 L367.15 147.53 L367.5 144.66 L367.85 142.75 L368.2 141.82 L368.55 140.88 L368.9 140.5 L369.25 140.25 L369.6 140.06 L369.95 140.33 L370.3 140.12 L370.65 139.96 L371 139.98 L371.35 140.27 L371.7 140.02 L372.05 139.87 L372.4 140.16 L372.75 140.08" stroke="#1fbf98" stroke-width="1" fill="none"/>
<path d="M291.2 164.89 L291.55 164.39 L291.9 164.54 L292.25 164.69 L292.6 164.69 L292.95 164.72 L293.3 164.28 L293.65 164.4 L294 164.31 L294.35 164.35 L294.7 164.74 L295.05 164.54 L295.4 164.72 L295.75 164.44 L296.1 164.68 L296.45 164.47 L296.8 164.38 L297.15 164.64 L297.5 164.72 L297.85 164.3 L298.2 164.55 L298.55 164.56 L298.9 164.36 L299.25 164.43 L299.6 164.32 L299.95 164.35 L300.3 164.38 L300.65 164.55 L301 164.58 L301.35 164.35 L301.7 164.26 L302.05 164.41 L302.4 164.59 L302.75 163.71 L303.1 162.88 L303.45 161.93 L303.8 162.36 L304.15 163.12 L304.5 163.77 L304.85 164.6 L305.2 164.75 L305.55 164.83 L305.9 164.87 L306.25 164.6 L306.6 164.63 L306.95 164.9 L307.3 164.75 L307.65 164.69 L308 164.7 L308.35 165.03 L308.7 164.71 L309.05 164.83 L309.4 164.73 L309.75 165.62 L310.1 167.86 L310.45 169.33 L310.8 167.33 L311.15 166.22 L311.5 165.87 L311.85 165.23 L312.2 164.9 L312.55 165.21 L312.9 164.59 L313.25 164.74 L313.6 164.5 L313.95 164.72 L314.3 164.5 L314.65 164.34 L315 164.26 L315.35 164.53 L315.7 164.57 L316.05 164.71 L316.4 164.3 L316.75 164.56 L317.1 164.44 L317.45 164.5 L317.8 164.32 L318.15 164.39 L318.5 164.51 L318.85 164.71 L319.2 164.3 L319.55 164.5 L319.9 164.65 L320.25 164.73 L320.6 164.35 L320.95 164.31 L321.3 164.72 L321.65 164.74 L322 164.49 L322.35 164.28 L322.7 164.71 L323.05 164.44 L323.4 164.7 L323.75 164.56 L324.1 164.66 L324.45 163.44 L324.8 162.86 L325.15 161.69 L325.5 162.42 L325.85 163.53 L326.2 164.41 L326.55 164.64 L326.9 164.66 L327.25 164.75 L327.6 164.81 L327.95 164.74 L328.3 164.61 L328.65 164.67 L329 164.91 L329.35 165 L329.7 164.57 L330.05 164.83 L330.4 164.93 L330.75 164.57 L331.1 164.97 L331.45 166.05 L331.8 168.3 L332.15 168.54 L332.5 167.12 L332.85 166.07 L333.2 165.59 L333.55 165.34 L333.9 165.07 L334.25 164.76 L334.6 164.59 L334.95 164.54 L335.3 164.3 L335.65 164.58 L336 164.51 L336.35 164.38 L336.7 164.64 L337.05 164.64 L337.4 164.48 L337.75 164.34 L338.1 164.49 L338.45 164.3 L338.8 164.31 L339.15 164.47 L339.5 164.3 L339.85 164.47 L340.2 164.51 L340.55 164.27 L340.9 164.57 L341.25 164.29 L341.6 164.62 L341.95 164.64 L342.3 164.51 L342.65 164.28 L343 164.5 L343.35 164.44 L343.7 164.73 L344.05 164.32 L344.4 164.68 L344.75 164.75 L345.1 164.62 L345.45 164.66 L345.8 164.09 L346.15 163.6 L346.5 162.46 L346.85 162.06 L347.2 162.93 L347.55 163.44 L347.9 164.64 L348.25 165.02 L348.6 164.58 L348.95 164.73 L349.3 164.93 L349.65 164.63 L350 165 L350.35 164.69 L350.7 164.96 L351.05 164.62 L351.4 164.8 L351.75 165.01 L352.1 164.65 L352.45 164.68 L352.8 164.8 L353.15 166.72 L353.5 168.59 L353.85 167.86 L354.2 166.58 L354.55 166.2 L354.9 165.61 L355.25 165.43 L355.6 164.9 L355.95 164.8 L356.3 164.4 L356.65 164.57 L357 164.6 L357.35 164.45 L357.7 164.7 L358.05 164.54 L358.4 164.54 L358.75 164.69 L359.1 164.3 L359.45 164.75 L359.8 164.57 L360.15 164.45 L360.5 164.65 L360.85 164.38 L361.2 164.75 L361.55 164.54 L361.9 164.43 L362.25 164.63 L362.6 164.47 L362.95 164.34 L363.3 164.62 L363.65 164.27 L364 164.66 L364.35 164.38 L364.7 164.57 L365.05 164.74 L365.4 164.54 L365.75 164.58 L366.1 164.41 L366.45 164.25 L366.8 164.27 L367.15 164.32 L367.5 164.05 L367.85 163.07 L368.2 162.22 L368.55 162.28 L368.9 162.79 L369.25 163.73 L369.6 164.88 L369.95 164.56 L370.3 164.55 L370.65 164.73 L371 164.6 L371.35 164.73 L371.7 164.66 L372.05 164.84 L372.4 164.84 L372.75 164.65" stroke="#f06ab6" stroke-width="1" fill="none"/>
<line x1="284" y1="128.7" x2="378.4" y2="128.7" stroke="#111" stroke-width="1.1"/>
<line x1="284" y1="153.3" x2="378.4" y2="153.3" stroke="#111" stroke-width="1.1"/>
<rect x="284" y="104.5" width="94.4" height="72.8" fill="none" stroke="#111" stroke-width="1.3"/>
<rect x="284.8" y="104.3" width="12.5" height="7.2" fill="#fff"/>
<text x="285.6" y="111.11" font-size="7" fill="#111" text-anchor="start" font-weight="bold" font-family="'Liberation Sans', sans-serif">38°</text>
<rect x="284.8" y="128.5" width="12.5" height="7.2" fill="#fff"/>
<text x="285.6" y="135.31" font-size="7" fill="#111" text-anchor="start" font-weight="bold" font-family="'Liberation Sans', sans-serif">28°</text>
<rect x="284.8" y="153.2" width="12.5" height="7.2" fill="#fff"/>
<text x="285.6" y="160.01" font-size="7" fill="#111" text-anchor="start" font-weight="bold" font-family="'Liberation Sans', sans-serif">16°</text>
<line x1="291.3" y1="177.3" x2="291.3" y2="179.3" stroke="#111" stroke-width="0.9"/>
<text x="291.3" y="186.08" font-size="10" fill="#111" text-anchor="middle" font-weight="bold" font-family="'Liberation Sans', sans-serif">0</text>
<line x1="304.75" y1="177.3" x2="304.75" y2="179.3" stroke="#111" stroke-width="0.9"/>
<text x="304.75" y="186.08" font-size="10" fill="#111" text-anchor="middle" font-weight="bold" font-family="'Liberation Sans', sans-serif">1</text>
<line x1="318.2" y1="177.3" x2="318.2" y2="179.3" stroke="#111" stroke-width="0.9"/>
<text x="318.2" y="186.08" font-size="10" fill="#111" text-anchor="middle" font-weight="bold" font-family="'Liberation Sans', sans-serif">2</text>
<line x1="331.65" y1="177.3" x2="331.65" y2="179.3" stroke="#111" stroke-width="0.9"/>
<text x="331.65" y="186.08" font-size="10" fill="#111" text-anchor="middle" font-weight="bold" font-family="'Liberation Sans', sans-serif">3</text>
<line x1="345.1" y1="177.3" x2="345.1" y2="179.3" stroke="#111" stroke-width="0.9"/>
<text x="345.1" y="186.08" font-size="10" fill="#111" text-anchor="middle" font-weight="bold" font-family="'Liberation Sans', sans-serif">4</text>
<line x1="358.55" y1="177.3" x2="358.55" y2="179.3" stroke="#111" stroke-width="0.9"/>
<text x="358.55" y="186.08" font-size="10" fill="#111" text-anchor="middle" font-weight="bold" font-family="'Liberation Sans', sans-serif">5</text>
<line x1="372" y1="177.3" x2="372" y2="179.3" stroke="#111" stroke-width="0.9"/>
<text x="372" y="186.08" font-size="10" fill="#111" text-anchor="middle" font-weight="bold" font-family="'Liberation Sans', sans-serif">6</text>
<text x="331.5" y="196.6" font-size="10.6" fill="#000" text-anchor="middle" font-weight="bold" font-family="'Liberation Sans', sans-serif">Time (s)</text>
<line x1="280.9" y1="128.9" x2="280.9" y2="153.3" stroke="#111" stroke-width="1.4"/>
<line x1="278.6" y1="128.9" x2="280.9" y2="128.9" stroke="#111" stroke-width="1.3"/>
<line x1="278.6" y1="153.3" x2="280.9" y2="153.3" stroke="#111" stroke-width="1.3"/>
<text x="276.2" y="133.88" font-size="10" fill="#111" text-anchor="end" font-weight="bold" font-family="'Liberation Sans', sans-serif">0.3</text>
<text x="268.3" y="144.78" font-size="10" fill="#111" text-anchor="middle" font-weight="bold" font-family="'Liberation Sans', sans-serif">0</text>
<text x="276.2" y="157.38" font-size="10" fill="#111" text-anchor="end" font-weight="bold" font-family="'Liberation Sans', sans-serif">-0.3</text>
<text transform="translate(253.87 142.2) rotate(-90)" font-size="10.8" fill="#000" text-anchor="middle" font-weight="bold" font-family="'Liberation Sans', sans-serif" textLength="54" lengthAdjust="spacingAndGlyphs">Voaltage (V)</text>
<text x="256.4" y="113.8" font-size="13" fill="#111" text-anchor="start" font-weight="normal" font-family="'Liberation Sans', sans-serif">(e)</text>
<rect x="432.3" y="120.5" width="13.7" height="55.9" fill="#ff0000"/>
<rect x="449.2" y="151.2" width="14.5" height="25.2" fill="#ff0000"/>
<rect x="467.3" y="161.7" width="13.9" height="14.7" fill="#ff0000"/>
<rect x="485" y="170.8" width="14" height="5.6" fill="#ff0000"/>
<path d="M439.2 168.2 L447.5 157 L456.4 147.8 L465.5 139.5 L474.3 130.5 L483 121 L492.2 111.7" stroke="#3838ff" stroke-width="1.2" fill="none"/>
<line x1="429.6" y1="105" x2="500.8" y2="105" stroke="#333" stroke-width="1.1"/>
<line x1="429.6" y1="176.4" x2="500.8" y2="176.4" stroke="#222" stroke-width="1.2"/>
<line x1="429.6" y1="105" x2="429.6" y2="176.4" stroke="#ff0000" stroke-width="1.1"/>
<line x1="500.8" y1="105" x2="500.8" y2="176.4" stroke="#2b2bf0" stroke-width="1.1"/>
<line x1="427.6" y1="105" x2="429.6" y2="105" stroke="#ff0000" stroke-width="0.9"/>
<text x="426.4" y="108.08" font-size="8.6" fill="#ff0000" text-anchor="end" font-weight="bold" font-family="'Liberation Sans', sans-serif">0.30</text>
<line x1="427.6" y1="121.8" x2="429.6" y2="121.8" stroke="#ff0000" stroke-width="0.9"/>
<text x="426.4" y="124.88" font-size="8.6" fill="#ff0000" text-anchor="end" font-weight="bold" font-family="'Liberation Sans', sans-serif">0.25</text>
<line x1="427.6" y1="138.6" x2="429.6" y2="138.6" stroke="#ff0000" stroke-width="0.9"/>
<text x="426.4" y="141.68" font-size="8.6" fill="#ff0000" text-anchor="end" font-weight="bold" font-family="'Liberation Sans', sans-serif">0.20</text>
<line x1="427.6" y1="155.4" x2="429.6" y2="155.4" stroke="#ff0000" stroke-width="0.9"/>
<text x="426.4" y="158.48" font-size="8.6" fill="#ff0000" text-anchor="end" font-weight="bold" font-family="'Liberation Sans', sans-serif">0.15</text>
<line x1="427.6" y1="172.2" x2="429.6" y2="172.2" stroke="#ff0000" stroke-width="0.9"/>
<text x="426.4" y="175.28" font-size="8.6" fill="#ff0000" text-anchor="end" font-weight="bold" font-family="'Liberation Sans', sans-serif">0.10</text>
<line x1="428.4" y1="113.4" x2="429.6" y2="113.4" stroke="#ff0000" stroke-width="0.7"/>
<line x1="428.4" y1="130.2" x2="429.6" y2="130.2" stroke="#ff0000" stroke-width="0.7"/>
<line x1="428.4" y1="147" x2="429.6" y2="147" stroke="#ff0000" stroke-width="0.7"/>
<line x1="428.4" y1="163.8" x2="429.6" y2="163.8" stroke="#ff0000" stroke-width="0.7"/>
<line x1="500.8" y1="104.7" x2="502.8" y2="104.7" stroke="#2b2bf0" stroke-width="0.9"/>
<text x="504" y="107.71" font-size="8.4" fill="#2b2bf0" text-anchor="start" font-weight="bold" font-family="'Liberation Sans', sans-serif">160</text>
<line x1="500.8" y1="120.6" x2="502.8" y2="120.6" stroke="#2b2bf0" stroke-width="0.9"/>
<text x="504" y="123.61" font-size="8.4" fill="#2b2bf0" text-anchor="start" font-weight="bold" font-family="'Liberation Sans', sans-serif">120</text>
<line x1="500.8" y1="136.5" x2="502.8" y2="136.5" stroke="#2b2bf0" stroke-width="0.9"/>
<text x="504" y="139.51" font-size="8.4" fill="#2b2bf0" text-anchor="start" font-weight="bold" font-family="'Liberation Sans', sans-serif">80</text>
<line x1="500.8" y1="152.4" x2="502.8" y2="152.4" stroke="#2b2bf0" stroke-width="0.9"/>
<text x="504" y="155.41" font-size="8.4" fill="#2b2bf0" text-anchor="start" font-weight="bold" font-family="'Liberation Sans', sans-serif">40</text>
<line x1="500.8" y1="168.3" x2="502.8" y2="168.3" stroke="#2b2bf0" stroke-width="0.9"/>
<text x="504" y="171.31" font-size="8.4" fill="#2b2bf0" text-anchor="start" font-weight="bold" font-family="'Liberation Sans', sans-serif">0</text>
<line x1="500.8" y1="112.65" x2="502" y2="112.65" stroke="#2b2bf0" stroke-width="0.7"/>
<line x1="500.8" y1="128.55" x2="502" y2="128.55" stroke="#2b2bf0" stroke-width="0.7"/>
<line x1="500.8" y1="144.45" x2="502" y2="144.45" stroke="#2b2bf0" stroke-width="0.7"/>
<line x1="500.8" y1="160.35" x2="502" y2="160.35" stroke="#2b2bf0" stroke-width="0.7"/>
<line x1="438.6" y1="176.4" x2="438.6" y2="178.4" stroke="#222" stroke-width="0.9"/>
<text x="438.6" y="186.21" font-size="8.4" fill="#111" text-anchor="middle" font-weight="bold" font-family="'Liberation Sans', sans-serif">38°</text>
<line x1="456.4" y1="176.4" x2="456.4" y2="178.4" stroke="#222" stroke-width="0.9"/>
<text x="456.4" y="186.21" font-size="8.4" fill="#111" text-anchor="middle" font-weight="bold" font-family="'Liberation Sans', sans-serif">28°</text>
<line x1="474.4" y1="176.4" x2="474.4" y2="178.4" stroke="#222" stroke-width="0.9"/>
<text x="474.4" y="186.21" font-size="8.4" fill="#111" text-anchor="middle" font-weight="bold" font-family="'Liberation Sans', sans-serif">20°</text>
<line x1="491.9" y1="176.4" x2="491.9" y2="178.4" stroke="#222" stroke-width="0.9"/>
<text x="491.9" y="186.21" font-size="8.4" fill="#111" text-anchor="middle" font-weight="bold" font-family="'Liberation Sans', sans-serif">16°</text>
<text x="465.2" y="200.6" font-size="10.1" fill="#000" text-anchor="middle" font-weight="bold" font-family="'Liberation Sans', sans-serif">Angle (degree)</text>
<text transform="translate(405.29 140) rotate(-90)" font-size="9.2" fill="#ff0000" text-anchor="middle" font-weight="bold" font-family="'Liberation Sans', sans-serif">Voltage (V)</text>
<text transform="translate(528.33 139.6) rotate(-90)" font-size="9.3" fill="#2b2bf0" text-anchor="middle" font-weight="bold" font-family="'Liberation Serif', serif">Response (%)</text>
<text x="393.6" y="114.2" font-size="13" fill="#111" text-anchor="start" font-weight="normal" font-family="'Liberation Sans', sans-serif">(f)</text>
<rect x="6.5" y="202.6" width="284" height="101.4" fill="none" stroke="#222" stroke-width="1.1"/>
<text x="9.4" y="216.8" font-size="13.2" fill="#111" text-anchor="start" font-weight="normal" font-family="'Liberation Sans', sans-serif">(g)</text>
<rect x="63.5" y="231" width="74.2" height="37.5" fill="#050505"/>
<line x1="63.95" y1="231.5" x2="63.95" y2="268.54" stroke="rgb(69,69,69)" stroke-width="0.95"/>
<line x1="64.85" y1="231.59" x2="64.85" y2="268.44" stroke="rgb(30,30,30)" stroke-width="0.95"/>
<line x1="65.75" y1="231.32" x2="65.75" y2="268.6" stroke="rgb(39,39,39)" stroke-width="0.95"/>
<line x1="66.65" y1="231.6" x2="66.65" y2="267.86" stroke="rgb(39,39,39)" stroke-width="0.95"/>
<line x1="67.55" y1="231.59" x2="67.55" y2="267.65" stroke="rgb(55,55,55)" stroke-width="0.95"/>
<line x1="68.45" y1="231.51" x2="68.45" y2="268.04" stroke="rgb(33,33,33)" stroke-width="0.95"/>
<line x1="69.35" y1="231.51" x2="69.35" y2="268" stroke="rgb(52,52,52)" stroke-width="0.95"/>
<line x1="70.25" y1="231.74" x2="70.25" y2="267.83" stroke="rgb(68,68,68)" stroke-width="0.95"/>
<line x1="71.15" y1="231.3" x2="71.15" y2="268.54" stroke="rgb(45,45,45)" stroke-width="0.95"/>
<line x1="72.05" y1="231.55" x2="72.05" y2="268.12" stroke="rgb(33,33,33)" stroke-width="0.95"/>
<line x1="72.95" y1="231.35" x2="72.95" y2="267.59" stroke="rgb(45,45,45)" stroke-width="0.95"/>
<line x1="73.85" y1="231.28" x2="73.85" y2="267.93" stroke="rgb(36,36,36)" stroke-width="0.95"/>
<line x1="74.75" y1="231.39" x2="74.75" y2="268.26" stroke="rgb(42,42,42)" stroke-width="0.95"/>
<line x1="75.65" y1="231.71" x2="75.65" y2="267.8" stroke="rgb(68,68,68)" stroke-width="0.95"/>
<line x1="76.55" y1="231.84" x2="76.55" y2="268.25" stroke="rgb(56,56,56)" stroke-width="0.95"/>
<line x1="77.45" y1="231.42" x2="77.45" y2="267.78" stroke="rgb(49,49,49)" stroke-width="0.95"/>
<line x1="78.35" y1="231.83" x2="78.35" y2="268.38" stroke="rgb(60,60,60)" stroke-width="0.95"/>
<line x1="79.25" y1="231.88" x2="79.25" y2="267.9" stroke="rgb(57,57,57)" stroke-width="0.95"/>
<line x1="80.15" y1="231.73" x2="80.15" y2="268.12" stroke="rgb(71,71,71)" stroke-width="0.95"/>
<line x1="81.05" y1="231.64" x2="81.05" y2="267.68" stroke="rgb(36,36,36)" stroke-width="0.95"/>
<line x1="81.95" y1="231.71" x2="81.95" y2="267.55" stroke="rgb(37,37,37)" stroke-width="0.95"/>
<line x1="82.85" y1="232.09" x2="82.85" y2="268.02" stroke="rgb(74,74,74)" stroke-width="0.95"/>
<line x1="83.75" y1="231.71" x2="83.75" y2="267.71" stroke="rgb(33,33,33)" stroke-width="0.95"/>
<line x1="84.65" y1="231.99" x2="84.65" y2="267.33" stroke="rgb(57,57,57)" stroke-width="0.95"/>
<line x1="85.55" y1="231.78" x2="85.55" y2="267.3" stroke="rgb(46,46,46)" stroke-width="0.95"/>
<line x1="86.45" y1="231.68" x2="86.45" y2="267.7" stroke="rgb(43,43,43)" stroke-width="0.95"/>
<line x1="87.35" y1="231.81" x2="87.35" y2="267.95" stroke="rgb(40,40,40)" stroke-width="0.95"/>
<line x1="88.25" y1="232.25" x2="88.25" y2="267.42" stroke="rgb(42,42,42)" stroke-width="0.95"/>
<line x1="89.15" y1="231.82" x2="89.15" y2="267.76" stroke="rgb(28,28,28)" stroke-width="0.95"/>
<line x1="90.05" y1="231.96" x2="90.05" y2="267.27" stroke="rgb(23,23,23)" stroke-width="0.95"/>
<line x1="90.95" y1="232.04" x2="90.95" y2="267.58" stroke="rgb(38,38,38)" stroke-width="0.95"/>
<line x1="91.85" y1="232.3" x2="91.85" y2="267.65" stroke="rgb(8,8,8)" stroke-width="0.95"/>
<line x1="92.75" y1="232.15" x2="92.75" y2="267.76" stroke="rgb(22,22,22)" stroke-width="0.95"/>
<line x1="93.65" y1="232.07" x2="93.65" y2="267.46" stroke="rgb(21,21,21)" stroke-width="0.95"/>
<line x1="94.55" y1="231.94" x2="94.55" y2="268" stroke="rgb(18,18,18)" stroke-width="0.95"/>
<line x1="95.45" y1="232.26" x2="95.45" y2="267.85" stroke="rgb(14,14,14)" stroke-width="0.95"/>
<line x1="96.35" y1="232.33" x2="96.35" y2="267.96" stroke="rgb(17,17,17)" stroke-width="0.95"/>
<line x1="97.25" y1="232.35" x2="97.25" y2="267.33" stroke="rgb(16,16,16)" stroke-width="0.95"/>
<line x1="98.15" y1="232.4" x2="98.15" y2="267.88" stroke="rgb(12,12,12)" stroke-width="0.95"/>
<line x1="99.05" y1="232.1" x2="99.05" y2="266.97" stroke="rgb(31,31,31)" stroke-width="0.95"/>
<line x1="99.95" y1="232.54" x2="99.95" y2="267.15" stroke="rgb(12,12,12)" stroke-width="0.95"/>
<line x1="100.85" y1="232.1" x2="100.85" y2="267.68" stroke="rgb(6,6,6)" stroke-width="0.95"/>
<line x1="101.75" y1="232.63" x2="101.75" y2="266.96" stroke="rgb(0,0,0)" stroke-width="0.95"/>
<line x1="102.65" y1="232.58" x2="102.65" y2="267.22" stroke="rgb(1,1,1)" stroke-width="0.95"/>
<line x1="103.55" y1="232.19" x2="103.55" y2="267.04" stroke="rgb(1,1,1)" stroke-width="0.95"/>
<line x1="104.45" y1="232.33" x2="104.45" y2="267.39" stroke="rgb(4,4,4)" stroke-width="0.95"/>
<line x1="105.35" y1="232.72" x2="105.35" y2="267.74" stroke="rgb(4,4,4)" stroke-width="0.95"/>
<line x1="106.25" y1="232.38" x2="106.25" y2="266.81" stroke="rgb(14,14,14)" stroke-width="0.95"/>
<line x1="107.15" y1="232.38" x2="107.15" y2="267" stroke="rgb(13,13,13)" stroke-width="0.95"/>
<line x1="108.05" y1="232.5" x2="108.05" y2="266.96" stroke="rgb(0,0,0)" stroke-width="0.95"/>
<line x1="108.95" y1="232.29" x2="108.95" y2="267.14" stroke="rgb(11,11,11)" stroke-width="0.95"/>
<line x1="109.85" y1="232.34" x2="109.85" y2="266.87" stroke="rgb(13,13,13)" stroke-width="0.95"/>
<line x1="110.75" y1="232.62" x2="110.75" y2="267.38" stroke="rgb(0,0,0)" stroke-width="0.95"/>
<line x1="111.65" y1="232.34" x2="111.65" y2="267.16" stroke="rgb(0,0,0)" stroke-width="0.95"/>
<line x1="112.55" y1="232.86" x2="112.55" y2="266.66" stroke="rgb(12,12,12)" stroke-width="0.95"/>
<line x1="113.45" y1="232.7" x2="113.45" y2="267.03" stroke="rgb(13,13,13)" stroke-width="0.95"/>
<line x1="114.35" y1="232.54" x2="114.35" y2="266.89" stroke="rgb(13,13,13)" stroke-width="0.95"/>
<line x1="115.25" y1="233" x2="115.25" y2="266.8" stroke="rgb(1,1,1)" stroke-width="0.95"/>
<line x1="116.15" y1="232.8" x2="116.15" y2="267.45" stroke="rgb(11,11,11)" stroke-width="0.95"/>
<line x1="117.05" y1="232.73" x2="117.05" y2="267.14" stroke="rgb(1,1,1)" stroke-width="0.95"/>
<line x1="117.95" y1="232.77" x2="117.95" y2="266.87" stroke="rgb(17,17,17)" stroke-width="0.95"/>
<line x1="118.85" y1="232.7" x2="118.85" y2="266.59" stroke="rgb(4,4,4)" stroke-width="0.95"/>
<line x1="119.75" y1="233.15" x2="119.75" y2="266.84" stroke="rgb(6,6,6)" stroke-width="0.95"/>
<line x1="120.65" y1="232.91" x2="120.65" y2="266.7" stroke="rgb(19,19,19)" stroke-width="0.95"/>
<line x1="121.55" y1="232.63" x2="121.55" y2="266.85" stroke="rgb(10,10,10)" stroke-width="0.95"/>
<line x1="122.45" y1="233.14" x2="122.45" y2="266.75" stroke="rgb(13,13,13)" stroke-width="0.95"/>
<line x1="123.35" y1="232.94" x2="123.35" y2="266.7" stroke="rgb(2,2,2)" stroke-width="0.95"/>
<line x1="124.25" y1="232.76" x2="124.25" y2="266.91" stroke="rgb(3,3,3)" stroke-width="0.95"/>
<line x1="125.15" y1="233.02" x2="125.15" y2="267.09" stroke="rgb(22,22,22)" stroke-width="0.95"/>
<line x1="126.05" y1="233.24" x2="126.05" y2="267.18" stroke="rgb(13,13,13)" stroke-width="0.95"/>
<line x1="126.95" y1="233.2" x2="126.95" y2="266.71" stroke="rgb(3,3,3)" stroke-width="0.95"/>
<line x1="127.85" y1="232.99" x2="127.85" y2="267.1" stroke="rgb(3,3,3)" stroke-width="0.95"/>
<line x1="128.75" y1="233.41" x2="128.75" y2="267.11" stroke="rgb(38,38,38)" stroke-width="0.95"/>
<line x1="129.65" y1="233.07" x2="129.65" y2="266.27" stroke="rgb(3,3,3)" stroke-width="0.95"/>
<line x1="130.55" y1="233.04" x2="130.55" y2="266.96" stroke="rgb(11,11,11)" stroke-width="0.95"/>
<line x1="131.45" y1="232.95" x2="131.45" y2="267.01" stroke="rgb(14,14,14)" stroke-width="0.95"/>
<line x1="132.35" y1="232.92" x2="132.35" y2="266.34" stroke="rgb(0,0,0)" stroke-width="0.95"/>
<line x1="133.25" y1="233.24" x2="133.25" y2="266.54" stroke="rgb(3,3,3)" stroke-width="0.95"/>
<line x1="134.15" y1="233.12" x2="134.15" y2="266.42" stroke="rgb(2,2,2)" stroke-width="0.95"/>
<line x1="135.05" y1="233.54" x2="135.05" y2="266.71" stroke="rgb(3,3,3)" stroke-width="0.95"/>
<line x1="135.95" y1="233.4" x2="135.95" y2="266.27" stroke="rgb(11,11,11)" stroke-width="0.95"/>
<line x1="136.85" y1="233.57" x2="136.85" y2="266.32" stroke="rgb(10,10,10)" stroke-width="0.95"/>
<line x1="137.75" y1="233.2" x2="137.75" y2="266.89" stroke="rgb(13,13,13)" stroke-width="0.95"/>
<rect x="63.5" y="245.8" width="74.2" height="5.4" fill="#000" opacity="0.9"/>
<rect x="63.5" y="243.5" width="74.2" height="10" fill="#000" opacity="0.25"/>
<line x1="138.15" y1="233.33" x2="138.15" y2="266.49" stroke="rgb(137,137,137)" stroke-width="0.92"/>
<line x1="139.05" y1="233.45" x2="139.05" y2="265.91" stroke="rgb(170,170,170)" stroke-width="0.92"/>
<line x1="139.95" y1="233.49" x2="139.95" y2="266.09" stroke="rgb(145,145,145)" stroke-width="0.92"/>
<line x1="140.85" y1="233.18" x2="140.85" y2="265.95" stroke="rgb(170,170,170)" stroke-width="0.92"/>
<line x1="141.75" y1="233.33" x2="141.75" y2="266.18" stroke="rgb(160,160,160)" stroke-width="0.92"/>
<line x1="142.65" y1="233.36" x2="142.65" y2="266.14" stroke="rgb(156,156,156)" stroke-width="0.92"/>
<line x1="143.55" y1="233.55" x2="143.55" y2="266.47" stroke="rgb(141,141,141)" stroke-width="0.92"/>
<line x1="144.45" y1="233.29" x2="144.45" y2="266.31" stroke="rgb(130,130,130)" stroke-width="0.92"/>
<line x1="145.35" y1="233.12" x2="145.35" y2="266.26" stroke="rgb(136,136,136)" stroke-width="0.92"/>
<line x1="146.25" y1="233.46" x2="146.25" y2="265.85" stroke="rgb(140,140,140)" stroke-width="0.92"/>
<line x1="147.15" y1="233.36" x2="147.15" y2="266.7" stroke="rgb(142,142,142)" stroke-width="0.92"/>
<line x1="148.05" y1="233.33" x2="148.05" y2="266.6" stroke="rgb(166,166,166)" stroke-width="0.92"/>
<line x1="148.95" y1="233.36" x2="148.95" y2="266.16" stroke="rgb(160,160,160)" stroke-width="0.92"/>
<line x1="149.85" y1="233.36" x2="149.85" y2="266.39" stroke="rgb(153,153,153)" stroke-width="0.92"/>
<line x1="150.75" y1="233.21" x2="150.75" y2="266.12" stroke="rgb(164,164,164)" stroke-width="0.92"/>
<line x1="151.65" y1="233.36" x2="151.65" y2="265.87" stroke="rgb(160,160,160)" stroke-width="0.92"/>
<line x1="152.55" y1="233.28" x2="152.55" y2="266.74" stroke="rgb(174,174,174)" stroke-width="0.92"/>
<line x1="153.45" y1="233.29" x2="153.45" y2="266.74" stroke="rgb(152,152,152)" stroke-width="0.92"/>
<line x1="154.35" y1="233.31" x2="154.35" y2="266.38" stroke="rgb(139,139,139)" stroke-width="0.92"/>
<line x1="155.25" y1="233.39" x2="155.25" y2="266.69" stroke="rgb(157,157,157)" stroke-width="0.92"/>
<line x1="156.15" y1="233.47" x2="156.15" y2="265.86" stroke="rgb(154,154,154)" stroke-width="0.92"/>
<line x1="157.05" y1="233.59" x2="157.05" y2="265.81" stroke="rgb(168,168,168)" stroke-width="0.92"/>
<line x1="157.95" y1="233.33" x2="157.95" y2="266.64" stroke="rgb(160,160,160)" stroke-width="0.92"/>
<line x1="158.85" y1="233.5" x2="158.85" y2="266.17" stroke="rgb(139,139,139)" stroke-width="0.92"/>
<line x1="159.75" y1="233.42" x2="159.75" y2="266.08" stroke="rgb(165,165,165)" stroke-width="0.92"/>
<line x1="160.65" y1="233.28" x2="160.65" y2="266.16" stroke="rgb(144,144,144)" stroke-width="0.92"/>
<line x1="161.55" y1="233.33" x2="161.55" y2="266.51" stroke="rgb(161,161,161)" stroke-width="0.92"/>
<line x1="162.45" y1="233.42" x2="162.45" y2="266.02" stroke="rgb(170,170,170)" stroke-width="0.92"/>
<line x1="163.35" y1="233.28" x2="163.35" y2="265.95" stroke="rgb(165,165,165)" stroke-width="0.92"/>
<line x1="164.25" y1="233.45" x2="164.25" y2="266.11" stroke="rgb(152,152,152)" stroke-width="0.92"/>
<line x1="165.15" y1="233.44" x2="165.15" y2="266.32" stroke="rgb(162,162,162)" stroke-width="0.92"/>
<line x1="166.05" y1="233.28" x2="166.05" y2="266.15" stroke="rgb(162,162,162)" stroke-width="0.92"/>
<line x1="166.95" y1="233.34" x2="166.95" y2="266.37" stroke="rgb(165,165,165)" stroke-width="0.92"/>
<line x1="167.85" y1="233.14" x2="167.85" y2="265.9" stroke="rgb(185,185,185)" stroke-width="0.92"/>
<line x1="168.75" y1="233.56" x2="168.75" y2="265.95" stroke="rgb(154,154,154)" stroke-width="0.92"/>
<line x1="169.65" y1="233.14" x2="169.65" y2="266.24" stroke="rgb(148,148,148)" stroke-width="0.92"/>
<line x1="170.55" y1="233.49" x2="170.55" y2="266.66" stroke="rgb(165,165,165)" stroke-width="0.92"/>
<line x1="171.45" y1="233.42" x2="171.45" y2="266.79" stroke="rgb(167,167,167)" stroke-width="0.92"/>
<line x1="172.35" y1="233.2" x2="172.35" y2="266.73" stroke="rgb(145,145,145)" stroke-width="0.92"/>
<line x1="173.25" y1="233.23" x2="173.25" y2="266.7" stroke="rgb(163,163,163)" stroke-width="0.92"/>
<line x1="174.15" y1="233.53" x2="174.15" y2="266.61" stroke="rgb(154,154,154)" stroke-width="0.92"/>
<line x1="175.05" y1="233.27" x2="175.05" y2="266.65" stroke="rgb(173,173,173)" stroke-width="0.92"/>
<line x1="175.95" y1="233.5" x2="175.95" y2="266.63" stroke="rgb(170,170,170)" stroke-width="0.92"/>
<line x1="176.85" y1="233.4" x2="176.85" y2="266.02" stroke="rgb(189,189,189)" stroke-width="0.92"/>
<line x1="177.75" y1="233.55" x2="177.75" y2="266.25" stroke="rgb(187,187,187)" stroke-width="0.92"/>
<line x1="178.65" y1="233.52" x2="178.65" y2="266.6" stroke="rgb(185,185,185)" stroke-width="0.92"/>
<line x1="179.55" y1="233.21" x2="179.55" y2="266.72" stroke="rgb(189,189,189)" stroke-width="0.92"/>
<line x1="180.45" y1="233.32" x2="180.45" y2="265.92" stroke="rgb(168,168,168)" stroke-width="0.92"/>
<line x1="181.35" y1="233.16" x2="181.35" y2="266.38" stroke="rgb(150,150,150)" stroke-width="0.92"/>
<line x1="182.25" y1="233.17" x2="182.25" y2="266.31" stroke="rgb(167,167,167)" stroke-width="0.92"/>
<line x1="183.15" y1="233.34" x2="183.15" y2="265.89" stroke="rgb(118,118,118)" stroke-width="0.92"/>
<line x1="184.05" y1="233.35" x2="184.05" y2="266.3" stroke="rgb(159,159,159)" stroke-width="0.92"/>
<line x1="184.95" y1="233.4" x2="184.95" y2="266.07" stroke="rgb(149,149,149)" stroke-width="0.92"/>
<line x1="185.85" y1="233.52" x2="185.85" y2="266.33" stroke="rgb(125,125,125)" stroke-width="0.92"/>
<line x1="186.75" y1="233.35" x2="186.75" y2="266.5" stroke="rgb(151,151,151)" stroke-width="0.92"/>
<line x1="187.65" y1="233.29" x2="187.65" y2="266.38" stroke="rgb(144,144,144)" stroke-width="0.92"/>
<line x1="188.55" y1="233.14" x2="188.55" y2="266.16" stroke="rgb(158,158,158)" stroke-width="0.92"/>
<line x1="189.45" y1="233.42" x2="189.45" y2="266.78" stroke="rgb(155,155,155)" stroke-width="0.92"/>
<line x1="190.35" y1="233.44" x2="190.35" y2="265.87" stroke="rgb(117,117,117)" stroke-width="0.92"/>
<line x1="191.25" y1="233.5" x2="191.25" y2="266.71" stroke="rgb(136,136,136)" stroke-width="0.92"/>
<line x1="192.15" y1="233.34" x2="192.15" y2="265.9" stroke="rgb(145,145,145)" stroke-width="0.92"/>
<line x1="193.05" y1="233.21" x2="193.05" y2="266.38" stroke="rgb(152,152,152)" stroke-width="0.92"/>
<line x1="193.95" y1="233.27" x2="193.95" y2="265.94" stroke="rgb(158,158,158)" stroke-width="0.92"/>
<line x1="194.85" y1="233.27" x2="194.85" y2="266.02" stroke="rgb(173,173,173)" stroke-width="0.92"/>
<line x1="195.75" y1="233.49" x2="195.75" y2="266.59" stroke="rgb(185,185,185)" stroke-width="0.92"/>
<line x1="196.65" y1="233.27" x2="196.65" y2="266.55" stroke="rgb(177,177,177)" stroke-width="0.92"/>
<line x1="197.55" y1="233.51" x2="197.55" y2="266.51" stroke="rgb(153,153,153)" stroke-width="0.92"/>
<line x1="198.45" y1="233.3" x2="198.45" y2="266.3" stroke="rgb(181,181,181)" stroke-width="0.92"/>
<line x1="199.35" y1="233.54" x2="199.35" y2="266.46" stroke="rgb(167,167,167)" stroke-width="0.92"/>
<line x1="200.25" y1="233.43" x2="200.25" y2="266.01" stroke="rgb(163,163,163)" stroke-width="0.92"/>
<line x1="201.15" y1="233.2" x2="201.15" y2="266.09" stroke="rgb(171,171,171)" stroke-width="0.92"/>
<line x1="202.05" y1="233.39" x2="202.05" y2="266.17" stroke="rgb(158,158,158)" stroke-width="0.92"/>
<line x1="202.95" y1="233.3" x2="202.95" y2="266.25" stroke="rgb(152,152,152)" stroke-width="0.92"/>
<line x1="203.85" y1="233.37" x2="203.85" y2="266.75" stroke="rgb(175,175,175)" stroke-width="0.92"/>
<line x1="204.75" y1="233.15" x2="204.75" y2="266.75" stroke="rgb(169,169,169)" stroke-width="0.92"/>
<defs><linearGradient id="gband" x1="0" y1="0" x2="0" y2="1"><stop offset="0" stop-color="#222" stop-opacity="0"/><stop offset="0.5" stop-color="#222" stop-opacity="0.45"/><stop offset="1" stop-color="#222" stop-opacity="0"/></linearGradient></defs>
<rect x="137.7" y="236" width="67" height="27" fill="url(#gband)"/>
<line x1="137.7" y1="249.4" x2="204.6" y2="249.4" stroke="#0a0a0a" stroke-width="1.7"/>
<line x1="172.9" y1="241.8" x2="172.9" y2="249.4" stroke="#111" stroke-width="1.2"/>
<path d="M172 249 L175.5 249 L173.2 252 Z" stroke="none" stroke-width="1" fill="#111"/>
<line x1="204.5" y1="233.2" x2="204.5" y2="267" stroke="#111" stroke-width="0.9"/>
<path d="M72.4 230.5 L72.4 270.2 L78.2 270.2 L78.2 230.5" stroke="#ff1a1a" stroke-width="1.4" fill="none" stroke-dasharray="3.2 1.7"/>
<path d="M184.2 232 L184.2 270.0 L191.0 270.0 L191.0 232" stroke="#20b858" stroke-width="1.3" fill="none" stroke-dasharray="3.2 1.7"/>
<line x1="80.8" y1="244.6" x2="236.5" y2="224.6" stroke="#ff1a1a" stroke-width="1.1"/>
<path d="M240.2 224.2 L235.2 222.0 L236.0 227.0 Z" stroke="none" stroke-width="1" fill="#ff1a1a"/>
<line x1="195.2" y1="263.8" x2="238" y2="272.4" stroke="#1cb860" stroke-width="1.1"/>
<path d="M241.8 273.2 L236.6 270.0 L235.8 274.6 Z" stroke="none" stroke-width="1" fill="#1cb860"/>
<line x1="41.4" y1="218.4" x2="43.6" y2="218.4" stroke="#222" stroke-width="0.9"/>
<text x="39.6" y="221.41" font-size="8.4" fill="#333" text-anchor="end" font-weight="normal" font-family="'Liberation Sans', sans-serif">1.0</text>
<line x1="41.4" y1="233.6" x2="43.6" y2="233.6" stroke="#222" stroke-width="0.9"/>
<text x="39.6" y="236.61" font-size="8.4" fill="#333" text-anchor="end" font-weight="normal" font-family="'Liberation Sans', sans-serif">0.5</text>
<line x1="41.4" y1="248.8" x2="43.6" y2="248.8" stroke="#222" stroke-width="0.9"/>
<text x="39.6" y="251.81" font-size="8.4" fill="#333" text-anchor="end" font-weight="normal" font-family="'Liberation Sans', sans-serif">0.0</text>
<line x1="41.4" y1="264" x2="43.6" y2="264" stroke="#222" stroke-width="0.9"/>
<text x="39.6" y="267.01" font-size="8.4" fill="#333" text-anchor="end" font-weight="normal" font-family="'Liberation Sans', sans-serif">-0.5</text>
<line x1="41.4" y1="279.2" x2="43.6" y2="279.2" stroke="#222" stroke-width="0.9"/>
<text x="39.6" y="282.21" font-size="8.4" fill="#333" text-anchor="end" font-weight="normal" font-family="'Liberation Sans', sans-serif">-1.0</text>
<line x1="42.4" y1="226" x2="43.6" y2="226" stroke="#222" stroke-width="0.7"/>
<line x1="42.4" y1="241.2" x2="43.6" y2="241.2" stroke="#222" stroke-width="0.7"/>
<line x1="42.4" y1="256.4" x2="43.6" y2="256.4" stroke="#222" stroke-width="0.7"/>
<line x1="42.4" y1="271.6" x2="43.6" y2="271.6" stroke="#222" stroke-width="0.7"/>
<line x1="63.7" y1="279.4" x2="63.7" y2="281.6" stroke="#222" stroke-width="0.9"/>
<text x="63.7" y="290.21" font-size="8.4" fill="#333" text-anchor="middle" font-weight="normal" font-family="'Liberation Sans', sans-serif">0</text>
<line x1="94.32" y1="279.4" x2="94.32" y2="281.6" stroke="#222" stroke-width="0.9"/>
<text x="94.32" y="290.21" font-size="8.4" fill="#333" text-anchor="middle" font-weight="normal" font-family="'Liberation Sans', sans-serif">30</text>
<line x1="124.94" y1="279.4" x2="124.94" y2="281.6" stroke="#222" stroke-width="0.9"/>
<text x="124.94" y="290.21" font-size="8.4" fill="#333" text-anchor="middle" font-weight="normal" font-family="'Liberation Sans', sans-serif">60</text>
<line x1="155.56" y1="279.4" x2="155.56" y2="281.6" stroke="#222" stroke-width="0.9"/>
<text x="155.56" y="290.21" font-size="8.4" fill="#333" text-anchor="middle" font-weight="normal" font-family="'Liberation Sans', sans-serif">90</text>
<line x1="186.18" y1="279.4" x2="186.18" y2="281.6" stroke="#222" stroke-width="0.9"/>
<text x="186.18" y="290.21" font-size="8.4" fill="#333" text-anchor="middle" font-weight="normal" font-family="'Liberation Sans', sans-serif">120</text>
<line x1="216.8" y1="279.4" x2="216.8" y2="281.6" stroke="#222" stroke-width="0.9"/>
<text x="216.8" y="290.21" font-size="8.4" fill="#333" text-anchor="middle" font-weight="normal" font-family="'Liberation Sans', sans-serif">150</text>
<line x1="79.01" y1="279.4" x2="79.01" y2="280.6" stroke="#222" stroke-width="0.7"/>
<line x1="109.63" y1="279.4" x2="109.63" y2="280.6" stroke="#222" stroke-width="0.7"/>
<line x1="140.25" y1="279.4" x2="140.25" y2="280.6" stroke="#222" stroke-width="0.7"/>
<line x1="170.87" y1="279.4" x2="170.87" y2="280.6" stroke="#222" stroke-width="0.7"/>
<line x1="201.49" y1="279.4" x2="201.49" y2="280.6" stroke="#222" stroke-width="0.7"/>
<rect x="43.6" y="209.3" width="182.9" height="70.1" fill="none" stroke="#111" stroke-width="1.2"/>
<text x="130" y="302.3" font-size="10.2" fill="#000" text-anchor="middle" font-weight="bold" font-family="'Liberation Sans', sans-serif">Time (s)</text>
<text transform="translate(19.77 252.4) rotate(-90)" font-size="10.8" fill="#000" text-anchor="middle" font-weight="bold" font-family="'Liberation Sans', sans-serif">Voltage (V)</text>
<text x="90.8" y="218.6" font-size="9" fill="#000" text-anchor="start" font-weight="bold" font-family="'Liberation Sans', sans-serif" textLength="67.2" lengthAdjust="spacingAndGlyphs">Relative humidity</text>
<text x="165.4" y="218.6" font-size="9" fill="#000" text-anchor="start" font-weight="normal" font-family="'Liberation Sans', sans-serif">(</text>
<text x="171.3" y="218.6" font-size="9" fill="#000" text-anchor="start" font-weight="bold" font-family="'Liberation Sans', sans-serif" textLength="17.5" lengthAdjust="spacingAndGlyphs">%RH</text>
<text x="190.8" y="218.6" font-size="9" fill="#000" text-anchor="start" font-weight="normal" font-family="'Liberation Sans', sans-serif">)</text>
<text x="67.2" y="228.26" font-size="8" fill="#222" text-anchor="middle" font-weight="normal" font-family="'Liberation Sans', sans-serif">40</text>
<text x="83.9" y="228.66" font-size="8" fill="#222" text-anchor="middle" font-weight="normal" font-family="'Liberation Sans', sans-serif">40.3</text>
<text x="105.8" y="229.86" font-size="8" fill="#222" text-anchor="middle" font-weight="normal" font-family="'Liberation Sans', sans-serif">50</text>
<text x="126.8" y="229.26" font-size="8" fill="#222" text-anchor="middle" font-weight="normal" font-family="'Liberation Sans', sans-serif">59.8</text>
<text x="149.4" y="229.06" font-size="8" fill="#222" text-anchor="middle" font-weight="normal" font-family="'Liberation Sans', sans-serif">60.3</text>
<text x="173" y="229.06" font-size="8" fill="#222" text-anchor="middle" font-weight="normal" font-family="'Liberation Sans', sans-serif">69.3</text>
<text x="197.3" y="228.86" font-size="8" fill="#222" text-anchor="middle" font-weight="normal" font-family="'Liberation Sans', sans-serif">71.7</text>
<path d="M258.1 213.37 L258.1 234.62M260.74 213.3 L260.74 234.95M263.38 212.95 L263.38 234.57M266.02 212.79 L266.02 234.88M268.66 213.18 L268.66 234.45M271.3 213.44 L271.3 234.93M273.94 212.35 L273.94 234.49M276.58 213.11 L276.58 234.86M279.22 213.16 L279.22 234.3M281.86 212.85 L281.86 234.92M284.5 213.51 L284.5 234.99" stroke="#ff2424" stroke-width="0.75" fill="none" opacity="0.9"/>
<line x1="257.2" y1="223.3" x2="285.2" y2="223.3" stroke="#ff2424" stroke-width="1.4"/>
<rect x="255.9" y="208.5" width="30.8" height="28.3" fill="none" stroke="#555" stroke-width="0.9"/>
<text x="257.5" y="212.3" font-size="3.6" fill="#444" text-anchor="start" font-weight="normal" font-family="'Liberation Sans', sans-serif">1.25 Hz</text>
<text x="254.7" y="212.62" font-size="4.8" fill="#555" text-anchor="end" font-weight="normal" font-family="'Liberation Sans', sans-serif">0.7</text>
<line x1="254.9" y1="210.9" x2="255.9" y2="210.9" stroke="#555" stroke-width="0.5"/>
<text x="254.7" y="225.02" font-size="4.8" fill="#555" text-anchor="end" font-weight="normal" font-family="'Liberation Sans', sans-serif">0.0</text>
<line x1="254.9" y1="223.3" x2="255.9" y2="223.3" stroke="#555" stroke-width="0.5"/>
<text x="254.7" y="236.72" font-size="4.8" fill="#555" text-anchor="end" font-weight="normal" font-family="'Liberation Sans', sans-serif">-0.7</text>
<line x1="254.9" y1="235" x2="255.9" y2="235" stroke="#555" stroke-width="0.5"/>
<text x="257.9" y="241.32" font-size="4.8" fill="#555" text-anchor="middle" font-weight="normal" font-family="'Liberation Sans', sans-serif">0</text>
<text x="271.6" y="241.32" font-size="4.8" fill="#555" text-anchor="middle" font-weight="normal" font-family="'Liberation Sans', sans-serif">5</text>
<text x="284.9" y="241.32" font-size="4.8" fill="#555" text-anchor="middle" font-weight="normal" font-family="'Liberation Sans', sans-serif">10</text>
<text x="271.3" y="248" font-size="6.6" fill="#000" text-anchor="middle" font-weight="bold" font-family="'Liberation Sans', sans-serif">Time (s)</text>
<text transform="translate(245.66 223.15) rotate(-90)" font-size="6.3" fill="#000" text-anchor="middle" font-weight="bold" font-family="'Liberation Sans', sans-serif">Voltage (V)</text>
<path d="M259 263.23 L259 281.49M261.44 262.5 L261.44 281.03M263.88 263.22 L263.88 281.45M266.32 262.14 L266.32 281.58M268.76 262.84 L268.76 281.14M271.2 263.29 L271.2 281.2M273.64 262.78 L273.64 280.94M276.08 263.11 L276.08 281.26M278.52 263 L278.52 281.28M280.96 262.19 L280.96 281.06M283.4 262.87 L283.4 280.81" stroke="#16a06c" stroke-width="0.75" fill="none" opacity="0.9"/>
<line x1="258.1" y1="271.6" x2="284.1" y2="271.6" stroke="#16a06c" stroke-width="1.4"/>
<rect x="256.8" y="254.9" width="28.8" height="29.7" fill="none" stroke="#555" stroke-width="0.9"/>
<text x="258.4" y="258.7" font-size="3.6" fill="#444" text-anchor="start" font-weight="normal" font-family="'Liberation Sans', sans-serif">1.25 Hz</text>
<text x="255.6" y="259.02" font-size="4.8" fill="#555" text-anchor="end" font-weight="normal" font-family="'Liberation Sans', sans-serif">0.7</text>
<line x1="255.8" y1="257.3" x2="256.8" y2="257.3" stroke="#555" stroke-width="0.5"/>
<text x="255.6" y="273.32" font-size="4.8" fill="#555" text-anchor="end" font-weight="normal" font-family="'Liberation Sans', sans-serif">0.0</text>
<line x1="255.8" y1="271.6" x2="256.8" y2="271.6" stroke="#555" stroke-width="0.5"/>
<text x="255.6" y="284.52" font-size="4.8" fill="#555" text-anchor="end" font-weight="normal" font-family="'Liberation Sans', sans-serif">-0.7</text>
<line x1="255.8" y1="282.8" x2="256.8" y2="282.8" stroke="#555" stroke-width="0.5"/>
<text x="258.4" y="289.12" font-size="4.8" fill="#555" text-anchor="middle" font-weight="normal" font-family="'Liberation Sans', sans-serif">0</text>
<text x="271.4" y="289.12" font-size="4.8" fill="#555" text-anchor="middle" font-weight="normal" font-family="'Liberation Sans', sans-serif">5</text>
<text x="284.2" y="289.12" font-size="4.8" fill="#555" text-anchor="middle" font-weight="normal" font-family="'Liberation Sans', sans-serif">15</text>
<text x="271.2" y="295.8" font-size="6.6" fill="#000" text-anchor="middle" font-weight="bold" font-family="'Liberation Sans', sans-serif">Time (s)</text>
<text transform="translate(245.66 272.75) rotate(-90)" font-size="6.3" fill="#000" text-anchor="middle" font-weight="bold" font-family="'Liberation Sans', sans-serif">Voltage (V)</text>
<path d="M362.7 277.6 L362.7 218.86 L363.5 218.36 L364.3 218.97 L365.1 218.75 L365.9 218.28 L366.7 218.67 L367.5 219.1 L368.3 218.83 L369.1 218.63 L369.9 218.21 L370.7 218.87 L371.5 219.19 L372.3 219.06 L373.1 218.42 L373.9 218.32 L374.7 218.67 L375.5 218.48 L376.3 218.77 L377.1 218.65 L377.9 218.94 L378.7 219.12 L379.5 218.57 L380.3 218.95 L381.1 218.89 L381.9 218.34 L382.7 218.96 L383.5 218.49 L384.3 218.76 L385.1 218.7 L385.9 218.87 L386.7 219.09 L387.5 219.11 L388.3 218.25 L389.1 218.23 L389.9 218.26 L390.7 219.08 L391.5 218.89 L392.3 218.82 L393.1 218.59 L393.9 218.51 L394.7 218.8 L395.5 219.16 L396.3 219.03 L397.1 218.81 L397.9 218.52 L398.7 219.15 L399.5 218.93 L400.3 218.67 L401.1 218.37 L401.9 219.17 L402.7 218.32 L403.5 219.15 L403.6 218.6 L403.6 277.6 L403.6 277.16 L402.8 277.8 L402 277.48 L401.2 277.78 L400.4 277.45 L399.6 277.27 L398.8 277.75 L398 277.33 L397.2 277.28 L396.4 277.62 L395.6 277.65 L394.8 277.8 L394 277.6 L393.2 277.87 L392.4 277.73 L391.6 277.02 L390.8 277.15 L390 277.83 L389.2 277.58 L388.4 277.98 L387.6 277.25 L386.8 277.39 L386 277.38 L385.2 277.77 L384.4 277.23 L383.6 277.45 L382.8 277.69 L382 277.32 L381.2 277.27 L380.4 277.16 L379.6 277.92 L378.8 277.76 L378 277.78 L377.2 277.29 L376.4 277.14 L375.6 277.89 L374.8 277.99 L374 277.15 L373.2 277.98 L372.4 277.8 L371.6 277.55 L370.8 277.78 L370 277.5 L369.2 277.53 L368.4 277.54 L367.6 277.48 L366.8 277.38 L366 277.79 L365.2 277.72 L364.4 277.98 L363.6 277.31 L362.8 277.06 Z" stroke="none" stroke-width="1" fill="#0000ff"/>
<path d="M445 276.6 L445 220 L445.8 220.31 L446.6 220.53 L447.4 220.19 L448.2 219.61 L449 219.98 L449.8 220.14 L450.6 220.14 L451.4 219.96 L452.2 219.66 L453 220 L453.8 220.12 L454.6 219.86 L455.4 220.43 L456.2 219.92 L457 220.11 L457.8 219.8 L458.6 219.81 L459.4 219.69 L460.2 220.41 L461 219.89 L461.8 220.18 L462.6 219.96 L463.4 220.38 L464.2 220.46 L465 219.85 L465.8 220.52 L466.6 220.09 L467.4 220.47 L468.2 219.97 L469 220.06 L469.8 219.68 L470.6 219.92 L471.4 219.63 L472.2 219.88 L473 220.21 L473.8 219.69 L474.6 219.8 L475.4 220.47 L476.2 220.17 L477 220.19 L477.8 219.81 L478.6 220.53 L479.4 219.88 L480.2 219.7 L481 220.05 L481.8 220.19 L482.6 220.21 L483.4 219.73 L484.2 220.44 L485 219.94 L485.8 220.59 L486 220 L486 276.6 L486 276.38 L485.2 276.03 L484.4 276.03 L483.6 276.37 L482.8 276.71 L482 276.49 L481.2 276.85 L480.4 276.89 L479.6 276.86 L478.8 276.64 L478 276.92 L477.2 276.71 L476.4 276.09 L475.6 276.32 L474.8 276.23 L474 276.09 L473.2 276.92 L472.4 276.51 L471.6 276.18 L470.8 276.85 L470 276.37 L469.2 276.24 L468.4 276.72 L467.6 276.17 L466.8 276.94 L466 276.94 L465.2 276.06 L464.4 276.55 L463.6 276.03 L462.8 276.92 L462 276.26 L461.2 276.51 L460.4 276.74 L459.6 276.76 L458.8 276.48 L458 276.1 L457.2 276.32 L456.4 276.01 L455.6 276.2 L454.8 276.75 L454 276.59 L453.2 276.44 L452.4 276.65 L451.6 276.47 L450.8 276.37 L450 276.39 L449.2 276.37 L448.4 276.38 L447.6 276.44 L446.8 276.81 L446 276.91 L445.2 276.89 Z" stroke="none" stroke-width="1" fill="#0000ff"/>
<path d="M405.5 248.3 L415.5 248.3 M433.6 248.3 L443 248.3" stroke="#0000ff" stroke-width="0.9" stroke-dasharray="1.3 1.3"/>
<line x1="416.4" y1="256.8" x2="422.7" y2="240.5" stroke="#0000ff" stroke-width="0.9"/>
<line x1="425.5" y1="256.8" x2="432.7" y2="240.5" stroke="#0000ff" stroke-width="0.9"/>
<line x1="343" y1="209.4" x2="345" y2="209.4" stroke="#333" stroke-width="0.8"/>
<text x="342.2" y="211.91" font-size="7" fill="#444" text-anchor="end" font-weight="normal" font-family="'Liberation Sans', sans-serif">0.6</text>
<line x1="343" y1="226.8" x2="345" y2="226.8" stroke="#333" stroke-width="0.8"/>
<text x="342.2" y="229.31" font-size="7" fill="#444" text-anchor="end" font-weight="normal" font-family="'Liberation Sans', sans-serif">0.3</text>
<line x1="343" y1="244.2" x2="345" y2="244.2" stroke="#333" stroke-width="0.8"/>
<text x="342.2" y="246.71" font-size="7" fill="#444" text-anchor="end" font-weight="normal" font-family="'Liberation Sans', sans-serif">0.0</text>
<line x1="343" y1="261.6" x2="345" y2="261.6" stroke="#333" stroke-width="0.8"/>
<text x="342.2" y="264.11" font-size="7" fill="#444" text-anchor="end" font-weight="normal" font-family="'Liberation Sans', sans-serif">-0.3</text>
<line x1="343" y1="279" x2="345" y2="279" stroke="#333" stroke-width="0.8"/>
<text x="342.2" y="281.51" font-size="7" fill="#444" text-anchor="end" font-weight="normal" font-family="'Liberation Sans', sans-serif">-0.6</text>
<line x1="343.8" y1="218.1" x2="345" y2="218.1" stroke="#333" stroke-width="0.6"/>
<line x1="343.8" y1="235.5" x2="345" y2="235.5" stroke="#333" stroke-width="0.6"/>
<line x1="343.8" y1="252.9" x2="345" y2="252.9" stroke="#333" stroke-width="0.6"/>
<line x1="343.8" y1="270.3" x2="345" y2="270.3" stroke="#333" stroke-width="0.6"/>
<line x1="362.5" y1="285" x2="362.5" y2="287" stroke="#333" stroke-width="0.8"/>
<text x="362.5" y="294.21" font-size="7" fill="#444" text-anchor="middle" font-weight="normal" font-family="'Liberation Sans', sans-serif">0</text>
<line x1="403.7" y1="285" x2="403.7" y2="287" stroke="#333" stroke-width="0.8"/>
<text x="403.7" y="294.21" font-size="7" fill="#444" text-anchor="middle" font-weight="normal" font-family="'Liberation Sans', sans-serif">2</text>
<line x1="444.9" y1="285" x2="444.9" y2="287" stroke="#333" stroke-width="0.8"/>
<text x="444.9" y="294.21" font-size="7" fill="#444" text-anchor="middle" font-weight="normal" font-family="'Liberation Sans', sans-serif">4</text>
<line x1="486.1" y1="285" x2="486.1" y2="287" stroke="#333" stroke-width="0.8"/>
<text x="486.1" y="294.21" font-size="7" fill="#444" text-anchor="middle" font-weight="normal" font-family="'Liberation Sans', sans-serif">6</text>
<line x1="383.1" y1="285" x2="383.1" y2="286.2" stroke="#333" stroke-width="0.6"/>
<line x1="424.3" y1="285" x2="424.3" y2="286.2" stroke="#333" stroke-width="0.6"/>
<line x1="465.5" y1="285" x2="465.5" y2="286.2" stroke="#333" stroke-width="0.6"/>
<rect x="345" y="209.5" width="157" height="75.5" fill="none" stroke="#333" stroke-width="1.0"/>
<text x="347.6" y="215.6" font-size="6" fill="#111" text-anchor="start" font-weight="normal" font-family="'Liberation Sans', sans-serif" textLength="45" lengthAdjust="spacingAndGlyphs">Frequency = 1 Hz</text>
<text x="424.3" y="303.2" font-size="8.4" fill="#000" text-anchor="middle" font-weight="bold" font-family="'Liberation Sans', sans-serif">Time (H)</text>
<text transform="translate(321.97 248.3) rotate(-90)" font-size="8.3" fill="#000" text-anchor="middle" font-weight="bold" font-family="'Liberation Sans', sans-serif">Voltage (V)</text>
<text x="314.2" y="220.9" font-size="12.7" fill="#111" text-anchor="start" font-weight="normal" font-family="'Liberation Sans', sans-serif">(h)</text>
</svg>
</body></html>
